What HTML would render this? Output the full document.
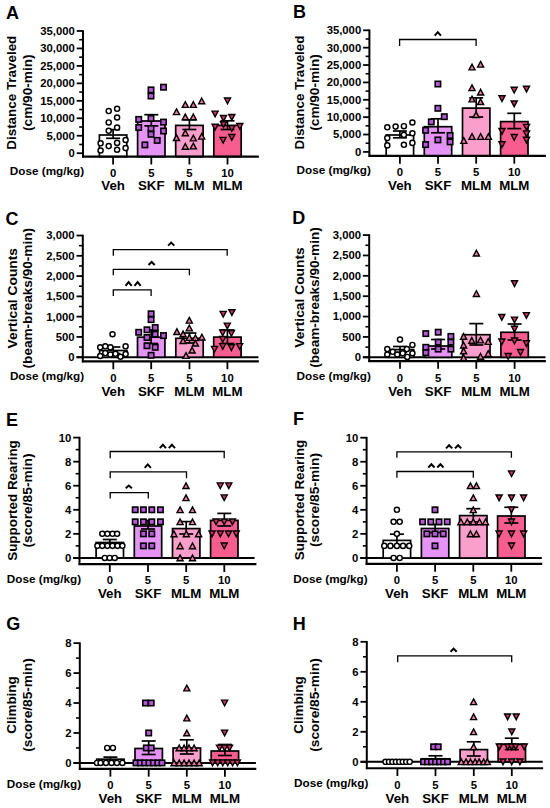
<!DOCTYPE html>
<html><head><meta charset="utf-8"><title>Figure</title>
<style>
html,body{margin:0;padding:0;background:#fff;}
body{width:550px;height:808px;overflow:hidden;}
svg{display:block;font-family:"Liberation Sans", sans-serif;}
text{font-family:"Liberation Sans", sans-serif;fill:#000;}
</style></head><body>
<svg width="550" height="808" viewBox="0 0 550 808">
<rect x="0" y="0" width="550" height="808" fill="#fff"/>
<text x="6.00" y="18.60" font-size="18.0" font-weight="bold" text-anchor="start" >A</text>
<text transform="translate(16.40,92.70) rotate(-90)" font-size="12.9" font-weight="bold" text-anchor="middle" textLength="114.0" lengthAdjust="spacingAndGlyphs">Distance Traveled</text>
<text transform="translate(32.00,92.70) rotate(-90)" font-size="12.5" font-weight="bold" text-anchor="middle" textLength="76.5" lengthAdjust="spacingAndGlyphs">(cm/90-min)</text>
<line x1="76.70" y1="153.20" x2="83.00" y2="153.20" stroke="#000" stroke-width="1.8"/>
<text x="74.80" y="157.10" font-size="11.3" font-weight="bold" text-anchor="end" >0</text>
<line x1="76.70" y1="135.74" x2="83.00" y2="135.74" stroke="#000" stroke-width="1.8"/>
<text x="74.80" y="139.64" font-size="11.3" font-weight="bold" text-anchor="end" >5,000</text>
<line x1="76.70" y1="118.28" x2="83.00" y2="118.28" stroke="#000" stroke-width="1.8"/>
<text x="74.80" y="122.18" font-size="11.3" font-weight="bold" text-anchor="end" >10,000</text>
<line x1="76.70" y1="100.82" x2="83.00" y2="100.82" stroke="#000" stroke-width="1.8"/>
<text x="74.80" y="104.72" font-size="11.3" font-weight="bold" text-anchor="end" >15,000</text>
<line x1="76.70" y1="83.36" x2="83.00" y2="83.36" stroke="#000" stroke-width="1.8"/>
<text x="74.80" y="87.26" font-size="11.3" font-weight="bold" text-anchor="end" >20,000</text>
<line x1="76.70" y1="65.90" x2="83.00" y2="65.90" stroke="#000" stroke-width="1.8"/>
<text x="74.80" y="69.80" font-size="11.3" font-weight="bold" text-anchor="end" >25,000</text>
<line x1="76.70" y1="48.44" x2="83.00" y2="48.44" stroke="#000" stroke-width="1.8"/>
<text x="74.80" y="52.34" font-size="11.3" font-weight="bold" text-anchor="end" >30,000</text>
<line x1="76.70" y1="30.98" x2="83.00" y2="30.98" stroke="#000" stroke-width="1.8"/>
<text x="74.80" y="34.88" font-size="11.3" font-weight="bold" text-anchor="end" >35,000</text>
<line x1="79.20" y1="144.47" x2="83.00" y2="144.47" stroke="#000" stroke-width="1.6"/>
<line x1="79.20" y1="127.01" x2="83.00" y2="127.01" stroke="#000" stroke-width="1.6"/>
<line x1="79.20" y1="109.55" x2="83.00" y2="109.55" stroke="#000" stroke-width="1.6"/>
<line x1="79.20" y1="92.09" x2="83.00" y2="92.09" stroke="#000" stroke-width="1.6"/>
<line x1="79.20" y1="74.63" x2="83.00" y2="74.63" stroke="#000" stroke-width="1.6"/>
<line x1="79.20" y1="57.17" x2="83.00" y2="57.17" stroke="#000" stroke-width="1.6"/>
<line x1="79.20" y1="39.71" x2="83.00" y2="39.71" stroke="#000" stroke-width="1.6"/>
<rect x="99.40" y="135.00" width="27.40" height="21.65" fill="#ffffff" stroke="#000" stroke-width="1.7"/>
<rect x="137.60" y="121.00" width="27.40" height="35.65" fill="#e594f6" stroke="#000" stroke-width="1.7"/>
<rect x="175.70" y="125.40" width="27.40" height="31.25" fill="#fa9fcc" stroke="#000" stroke-width="1.7"/>
<rect x="213.80" y="125.40" width="27.40" height="31.25" fill="#f85d90" stroke="#000" stroke-width="1.7"/>
<line x1="113.10" y1="129.60" x2="113.10" y2="138.30" stroke="#000" stroke-width="1.7"/>
<line x1="106.10" y1="129.60" x2="120.10" y2="129.60" stroke="#000" stroke-width="1.7"/>
<line x1="106.10" y1="138.30" x2="120.10" y2="138.30" stroke="#000" stroke-width="1.7"/>
<line x1="151.30" y1="114.70" x2="151.30" y2="125.90" stroke="#000" stroke-width="1.7"/>
<line x1="144.30" y1="114.70" x2="158.30" y2="114.70" stroke="#000" stroke-width="1.7"/>
<line x1="144.30" y1="125.90" x2="158.30" y2="125.90" stroke="#000" stroke-width="1.7"/>
<line x1="189.40" y1="119.80" x2="189.40" y2="129.50" stroke="#000" stroke-width="1.7"/>
<line x1="182.40" y1="119.80" x2="196.40" y2="119.80" stroke="#000" stroke-width="1.7"/>
<line x1="182.40" y1="129.50" x2="196.40" y2="129.50" stroke="#000" stroke-width="1.7"/>
<line x1="227.50" y1="120.80" x2="227.50" y2="129.50" stroke="#000" stroke-width="1.7"/>
<line x1="220.50" y1="120.80" x2="234.50" y2="120.80" stroke="#000" stroke-width="1.7"/>
<line x1="220.50" y1="129.50" x2="234.50" y2="129.50" stroke="#000" stroke-width="1.7"/>
<circle cx="108.70" cy="111.10" r="2.55" fill="#fff" stroke="#000" stroke-width="1.45"/>
<circle cx="117.10" cy="108.80" r="2.55" fill="#fff" stroke="#000" stroke-width="1.45"/>
<circle cx="117.10" cy="117.50" r="2.55" fill="#fff" stroke="#000" stroke-width="1.45"/>
<circle cx="108.70" cy="122.40" r="2.55" fill="#fff" stroke="#000" stroke-width="1.45"/>
<circle cx="117.10" cy="127.60" r="2.55" fill="#fff" stroke="#000" stroke-width="1.45"/>
<circle cx="108.70" cy="130.80" r="2.55" fill="#fff" stroke="#000" stroke-width="1.45"/>
<circle cx="100.60" cy="143.30" r="2.55" fill="#fff" stroke="#000" stroke-width="1.45"/>
<circle cx="108.70" cy="146.10" r="2.55" fill="#fff" stroke="#000" stroke-width="1.45"/>
<circle cx="117.10" cy="142.90" r="2.55" fill="#fff" stroke="#000" stroke-width="1.45"/>
<circle cx="125.60" cy="140.00" r="2.55" fill="#fff" stroke="#000" stroke-width="1.45"/>
<circle cx="100.60" cy="150.50" r="2.55" fill="#fff" stroke="#000" stroke-width="1.45"/>
<circle cx="117.10" cy="149.70" r="2.55" fill="#fff" stroke="#000" stroke-width="1.45"/>
<circle cx="125.60" cy="148.10" r="2.55" fill="#fff" stroke="#000" stroke-width="1.45"/>
<rect x="148.30" y="87.20" width="5.40" height="5.40" fill="#bb55dd" stroke="#000" stroke-width="1.6"/>
<rect x="148.30" y="93.30" width="5.40" height="5.40" fill="#bb55dd" stroke="#000" stroke-width="1.6"/>
<rect x="160.80" y="84.50" width="5.40" height="5.40" fill="#bb55dd" stroke="#000" stroke-width="1.6"/>
<rect x="136.00" y="116.70" width="5.40" height="5.40" fill="#bb55dd" stroke="#000" stroke-width="1.6"/>
<rect x="148.30" y="115.70" width="5.40" height="5.40" fill="#bb55dd" stroke="#000" stroke-width="1.6"/>
<rect x="160.80" y="119.40" width="5.40" height="5.40" fill="#bb55dd" stroke="#000" stroke-width="1.6"/>
<rect x="136.00" y="124.80" width="5.40" height="5.40" fill="#bb55dd" stroke="#000" stroke-width="1.6"/>
<rect x="148.30" y="125.80" width="5.40" height="5.40" fill="#bb55dd" stroke="#000" stroke-width="1.6"/>
<rect x="160.80" y="128.30" width="5.40" height="5.40" fill="#bb55dd" stroke="#000" stroke-width="1.6"/>
<rect x="148.30" y="131.60" width="5.40" height="5.40" fill="#bb55dd" stroke="#000" stroke-width="1.6"/>
<rect x="154.50" y="137.70" width="5.40" height="5.40" fill="#bb55dd" stroke="#000" stroke-width="1.6"/>
<rect x="142.20" y="142.20" width="5.40" height="5.40" fill="#bb55dd" stroke="#000" stroke-width="1.6"/>
<path d="M201.70,98.05 L204.75,103.75 L198.65,103.75 Z" fill="#ee7aa8" stroke="#000" stroke-width="1.4" stroke-linejoin="miter"/>
<path d="M185.30,101.65 L188.35,107.35 L182.25,107.35 Z" fill="#ee7aa8" stroke="#000" stroke-width="1.4" stroke-linejoin="miter"/>
<path d="M193.30,101.65 L196.35,107.35 L190.25,107.35 Z" fill="#ee7aa8" stroke="#000" stroke-width="1.4" stroke-linejoin="miter"/>
<path d="M176.50,108.95 L179.55,114.65 L173.45,114.65 Z" fill="#ee7aa8" stroke="#000" stroke-width="1.4" stroke-linejoin="miter"/>
<path d="M185.30,114.05 L188.35,119.75 L182.25,119.75 Z" fill="#ee7aa8" stroke="#000" stroke-width="1.4" stroke-linejoin="miter"/>
<path d="M193.30,114.05 L196.35,119.75 L190.25,119.75 Z" fill="#ee7aa8" stroke="#000" stroke-width="1.4" stroke-linejoin="miter"/>
<path d="M185.30,130.05 L188.35,135.75 L182.25,135.75 Z" fill="#ee7aa8" stroke="#000" stroke-width="1.4" stroke-linejoin="miter"/>
<path d="M176.50,134.85 L179.55,140.55 L173.45,140.55 Z" fill="#ee7aa8" stroke="#000" stroke-width="1.4" stroke-linejoin="miter"/>
<path d="M193.30,135.15 L196.35,140.85 L190.25,140.85 Z" fill="#ee7aa8" stroke="#000" stroke-width="1.4" stroke-linejoin="miter"/>
<path d="M201.70,133.45 L204.75,139.15 L198.65,139.15 Z" fill="#ee7aa8" stroke="#000" stroke-width="1.4" stroke-linejoin="miter"/>
<path d="M185.30,143.55 L188.35,149.25 L182.25,149.25 Z" fill="#ee7aa8" stroke="#000" stroke-width="1.4" stroke-linejoin="miter"/>
<path d="M193.30,143.15 L196.35,148.85 L190.25,148.85 Z" fill="#ee7aa8" stroke="#000" stroke-width="1.4" stroke-linejoin="miter"/>
<path d="M224.45,98.05 L230.55,98.05 L227.50,103.75 Z" fill="#d82e67" stroke="#000" stroke-width="1.4" stroke-linejoin="miter"/>
<path d="M212.05,111.15 L218.15,111.15 L215.10,116.85 Z" fill="#d82e67" stroke="#000" stroke-width="1.4" stroke-linejoin="miter"/>
<path d="M220.45,115.55 L226.55,115.55 L223.50,121.25 Z" fill="#d82e67" stroke="#000" stroke-width="1.4" stroke-linejoin="miter"/>
<path d="M228.75,114.45 L234.85,114.45 L231.80,120.15 Z" fill="#d82e67" stroke="#000" stroke-width="1.4" stroke-linejoin="miter"/>
<path d="M220.45,121.75 L226.55,121.75 L223.50,127.45 Z" fill="#d82e67" stroke="#000" stroke-width="1.4" stroke-linejoin="miter"/>
<path d="M212.05,124.25 L218.15,124.25 L215.10,129.95 Z" fill="#d82e67" stroke="#000" stroke-width="1.4" stroke-linejoin="miter"/>
<path d="M228.75,125.65 L234.85,125.65 L231.80,131.35 Z" fill="#d82e67" stroke="#000" stroke-width="1.4" stroke-linejoin="miter"/>
<path d="M236.75,123.55 L242.85,123.55 L239.80,129.25 Z" fill="#d82e67" stroke="#000" stroke-width="1.4" stroke-linejoin="miter"/>
<path d="M220.05,137.35 L226.15,137.35 L223.10,143.05 Z" fill="#d82e67" stroke="#000" stroke-width="1.4" stroke-linejoin="miter"/>
<path d="M228.75,134.45 L234.85,134.45 L231.80,140.15 Z" fill="#d82e67" stroke="#000" stroke-width="1.4" stroke-linejoin="miter"/>
<line x1="83.00" y1="30.18" x2="83.00" y2="157.55" stroke="#000" stroke-width="2.0"/>
<line x1="82.10" y1="156.65" x2="258.90" y2="156.65" stroke="#000" stroke-width="2.2"/>
<line x1="113.10" y1="156.65" x2="113.10" y2="164.45" stroke="#000" stroke-width="1.8"/>
<text x="113.10" y="176.50" font-size="11.3" font-weight="bold" text-anchor="middle" >0</text>
<text x="113.10" y="190.40" font-size="13.3" font-weight="bold" text-anchor="middle" >Veh</text>
<line x1="151.30" y1="156.65" x2="151.30" y2="164.45" stroke="#000" stroke-width="1.8"/>
<text x="151.30" y="176.50" font-size="11.3" font-weight="bold" text-anchor="middle" >5</text>
<text x="151.30" y="190.40" font-size="13.3" font-weight="bold" text-anchor="middle" >SKF</text>
<line x1="189.40" y1="156.65" x2="189.40" y2="164.45" stroke="#000" stroke-width="1.8"/>
<text x="189.40" y="176.50" font-size="11.3" font-weight="bold" text-anchor="middle" >5</text>
<text x="189.40" y="190.40" font-size="13.3" font-weight="bold" text-anchor="middle" >MLM</text>
<line x1="227.50" y1="156.65" x2="227.50" y2="164.45" stroke="#000" stroke-width="1.8"/>
<text x="227.50" y="176.50" font-size="11.3" font-weight="bold" text-anchor="middle" >10</text>
<text x="227.50" y="190.40" font-size="13.3" font-weight="bold" text-anchor="middle" >MLM</text>
<text x="9.80" y="175.10" font-size="11.6" font-weight="bold" textLength="74.3" lengthAdjust="spacingAndGlyphs">Dose (mg/kg)</text>
<text x="292.90" y="18.40" font-size="18.0" font-weight="bold" text-anchor="start" >B</text>
<text transform="translate(303.50,92.50) rotate(-90)" font-size="12.9" font-weight="bold" text-anchor="middle" textLength="114.0" lengthAdjust="spacingAndGlyphs">Distance Traveled</text>
<text transform="translate(319.10,92.50) rotate(-90)" font-size="12.5" font-weight="bold" text-anchor="middle" textLength="76.5" lengthAdjust="spacingAndGlyphs">(cm/90-min)</text>
<line x1="363.10" y1="151.90" x2="369.40" y2="151.90" stroke="#000" stroke-width="1.8"/>
<text x="361.20" y="155.80" font-size="11.3" font-weight="bold" text-anchor="end" >0</text>
<line x1="363.10" y1="134.53" x2="369.40" y2="134.53" stroke="#000" stroke-width="1.8"/>
<text x="361.20" y="138.43" font-size="11.3" font-weight="bold" text-anchor="end" >5,000</text>
<line x1="363.10" y1="117.16" x2="369.40" y2="117.16" stroke="#000" stroke-width="1.8"/>
<text x="361.20" y="121.06" font-size="11.3" font-weight="bold" text-anchor="end" >10,000</text>
<line x1="363.10" y1="99.79" x2="369.40" y2="99.79" stroke="#000" stroke-width="1.8"/>
<text x="361.20" y="103.69" font-size="11.3" font-weight="bold" text-anchor="end" >15,000</text>
<line x1="363.10" y1="82.42" x2="369.40" y2="82.42" stroke="#000" stroke-width="1.8"/>
<text x="361.20" y="86.32" font-size="11.3" font-weight="bold" text-anchor="end" >20,000</text>
<line x1="363.10" y1="65.05" x2="369.40" y2="65.05" stroke="#000" stroke-width="1.8"/>
<text x="361.20" y="68.95" font-size="11.3" font-weight="bold" text-anchor="end" >25,000</text>
<line x1="363.10" y1="47.68" x2="369.40" y2="47.68" stroke="#000" stroke-width="1.8"/>
<text x="361.20" y="51.58" font-size="11.3" font-weight="bold" text-anchor="end" >30,000</text>
<line x1="363.10" y1="30.31" x2="369.40" y2="30.31" stroke="#000" stroke-width="1.8"/>
<text x="361.20" y="34.21" font-size="11.3" font-weight="bold" text-anchor="end" >35,000</text>
<line x1="365.60" y1="143.22" x2="369.40" y2="143.22" stroke="#000" stroke-width="1.6"/>
<line x1="365.60" y1="125.84" x2="369.40" y2="125.84" stroke="#000" stroke-width="1.6"/>
<line x1="365.60" y1="108.47" x2="369.40" y2="108.47" stroke="#000" stroke-width="1.6"/>
<line x1="365.60" y1="91.11" x2="369.40" y2="91.11" stroke="#000" stroke-width="1.6"/>
<line x1="365.60" y1="73.73" x2="369.40" y2="73.73" stroke="#000" stroke-width="1.6"/>
<line x1="365.60" y1="56.36" x2="369.40" y2="56.36" stroke="#000" stroke-width="1.6"/>
<line x1="365.60" y1="39.00" x2="369.40" y2="39.00" stroke="#000" stroke-width="1.6"/>
<rect x="386.20" y="135.00" width="27.40" height="20.85" fill="#ffffff" stroke="#000" stroke-width="1.7"/>
<rect x="424.30" y="126.70" width="27.40" height="29.15" fill="#e594f6" stroke="#000" stroke-width="1.7"/>
<rect x="462.50" y="108.10" width="27.40" height="47.75" fill="#fa9fcc" stroke="#000" stroke-width="1.7"/>
<rect x="500.60" y="121.60" width="27.40" height="34.25" fill="#f85d90" stroke="#000" stroke-width="1.7"/>
<line x1="399.90" y1="131.00" x2="399.90" y2="137.80" stroke="#000" stroke-width="1.7"/>
<line x1="392.90" y1="131.00" x2="406.90" y2="131.00" stroke="#000" stroke-width="1.7"/>
<line x1="392.90" y1="137.80" x2="406.90" y2="137.80" stroke="#000" stroke-width="1.7"/>
<line x1="438.00" y1="118.80" x2="438.00" y2="132.80" stroke="#000" stroke-width="1.7"/>
<line x1="431.00" y1="118.80" x2="445.00" y2="118.80" stroke="#000" stroke-width="1.7"/>
<line x1="431.00" y1="132.80" x2="445.00" y2="132.80" stroke="#000" stroke-width="1.7"/>
<line x1="476.20" y1="97.90" x2="476.20" y2="117.00" stroke="#000" stroke-width="1.7"/>
<line x1="469.20" y1="97.90" x2="483.20" y2="97.90" stroke="#000" stroke-width="1.7"/>
<line x1="469.20" y1="117.00" x2="483.20" y2="117.00" stroke="#000" stroke-width="1.7"/>
<line x1="514.30" y1="113.30" x2="514.30" y2="128.60" stroke="#000" stroke-width="1.7"/>
<line x1="507.30" y1="113.30" x2="521.30" y2="113.30" stroke="#000" stroke-width="1.7"/>
<line x1="507.30" y1="128.60" x2="521.30" y2="128.60" stroke="#000" stroke-width="1.7"/>
<circle cx="387.30" cy="127.30" r="2.55" fill="#fff" stroke="#000" stroke-width="1.45"/>
<circle cx="395.60" cy="126.60" r="2.55" fill="#fff" stroke="#000" stroke-width="1.45"/>
<circle cx="403.90" cy="126.20" r="2.55" fill="#fff" stroke="#000" stroke-width="1.45"/>
<circle cx="412.40" cy="122.50" r="2.55" fill="#fff" stroke="#000" stroke-width="1.45"/>
<circle cx="403.90" cy="134.90" r="2.55" fill="#fff" stroke="#000" stroke-width="1.45"/>
<circle cx="412.40" cy="133.20" r="2.55" fill="#fff" stroke="#000" stroke-width="1.45"/>
<circle cx="387.30" cy="138.10" r="2.55" fill="#fff" stroke="#000" stroke-width="1.45"/>
<circle cx="387.30" cy="145.40" r="2.55" fill="#fff" stroke="#000" stroke-width="1.45"/>
<circle cx="403.90" cy="144.80" r="2.55" fill="#fff" stroke="#000" stroke-width="1.45"/>
<circle cx="412.40" cy="142.90" r="2.55" fill="#fff" stroke="#000" stroke-width="1.45"/>
<rect x="435.20" y="81.30" width="5.40" height="5.40" fill="#bb55dd" stroke="#000" stroke-width="1.6"/>
<rect x="435.20" y="105.60" width="5.40" height="5.40" fill="#bb55dd" stroke="#000" stroke-width="1.6"/>
<rect x="441.60" y="114.00" width="5.40" height="5.40" fill="#bb55dd" stroke="#000" stroke-width="1.6"/>
<rect x="428.60" y="119.20" width="5.40" height="5.40" fill="#bb55dd" stroke="#000" stroke-width="1.6"/>
<rect x="422.90" y="127.60" width="5.40" height="5.40" fill="#bb55dd" stroke="#000" stroke-width="1.6"/>
<rect x="435.20" y="137.20" width="5.40" height="5.40" fill="#bb55dd" stroke="#000" stroke-width="1.6"/>
<rect x="447.40" y="132.80" width="5.40" height="5.40" fill="#bb55dd" stroke="#000" stroke-width="1.6"/>
<rect x="447.40" y="139.20" width="5.40" height="5.40" fill="#bb55dd" stroke="#000" stroke-width="1.6"/>
<rect x="422.90" y="141.90" width="5.40" height="5.40" fill="#bb55dd" stroke="#000" stroke-width="1.6"/>
<path d="M472.00,64.15 L475.05,69.85 L468.95,69.85 Z" fill="#ee7aa8" stroke="#000" stroke-width="1.4" stroke-linejoin="miter"/>
<path d="M480.60,61.45 L483.65,67.15 L477.55,67.15 Z" fill="#ee7aa8" stroke="#000" stroke-width="1.4" stroke-linejoin="miter"/>
<path d="M472.00,84.95 L475.05,90.65 L468.95,90.65 Z" fill="#ee7aa8" stroke="#000" stroke-width="1.4" stroke-linejoin="miter"/>
<path d="M480.60,89.35 L483.65,95.05 L477.55,95.05 Z" fill="#ee7aa8" stroke="#000" stroke-width="1.4" stroke-linejoin="miter"/>
<path d="M472.00,96.15 L475.05,101.85 L468.95,101.85 Z" fill="#ee7aa8" stroke="#000" stroke-width="1.4" stroke-linejoin="miter"/>
<path d="M480.60,98.85 L483.65,104.55 L477.55,104.55 Z" fill="#ee7aa8" stroke="#000" stroke-width="1.4" stroke-linejoin="miter"/>
<path d="M476.10,111.85 L479.15,117.55 L473.05,117.55 Z" fill="#ee7aa8" stroke="#000" stroke-width="1.4" stroke-linejoin="miter"/>
<path d="M472.00,133.65 L475.05,139.35 L468.95,139.35 Z" fill="#ee7aa8" stroke="#000" stroke-width="1.4" stroke-linejoin="miter"/>
<path d="M480.60,133.65 L483.65,139.35 L477.55,139.35 Z" fill="#ee7aa8" stroke="#000" stroke-width="1.4" stroke-linejoin="miter"/>
<path d="M488.40,133.65 L491.45,139.35 L485.35,139.35 Z" fill="#ee7aa8" stroke="#000" stroke-width="1.4" stroke-linejoin="miter"/>
<path d="M463.80,137.65 L466.85,143.35 L460.75,143.35 Z" fill="#ee7aa8" stroke="#000" stroke-width="1.4" stroke-linejoin="miter"/>
<path d="M511.15,87.25 L517.25,87.25 L514.20,92.95 Z" fill="#d82e67" stroke="#000" stroke-width="1.4" stroke-linejoin="miter"/>
<path d="M523.45,86.25 L529.55,86.25 L526.50,91.95 Z" fill="#d82e67" stroke="#000" stroke-width="1.4" stroke-linejoin="miter"/>
<path d="M498.95,95.75 L505.05,95.75 L502.00,101.45 Z" fill="#d82e67" stroke="#000" stroke-width="1.4" stroke-linejoin="miter"/>
<path d="M511.15,100.95 L517.25,100.95 L514.20,106.65 Z" fill="#d82e67" stroke="#000" stroke-width="1.4" stroke-linejoin="miter"/>
<path d="M498.95,128.45 L505.05,128.45 L502.00,134.15 Z" fill="#d82e67" stroke="#000" stroke-width="1.4" stroke-linejoin="miter"/>
<path d="M523.45,124.35 L529.55,124.35 L526.50,130.05 Z" fill="#d82e67" stroke="#000" stroke-width="1.4" stroke-linejoin="miter"/>
<path d="M523.45,130.85 L529.55,130.85 L526.50,136.55 Z" fill="#d82e67" stroke="#000" stroke-width="1.4" stroke-linejoin="miter"/>
<path d="M511.15,134.55 L517.25,134.55 L514.20,140.25 Z" fill="#d82e67" stroke="#000" stroke-width="1.4" stroke-linejoin="miter"/>
<path d="M523.45,137.25 L529.55,137.25 L526.50,142.95 Z" fill="#d82e67" stroke="#000" stroke-width="1.4" stroke-linejoin="miter"/>
<path d="M498.95,141.75 L505.05,141.75 L502.00,147.45 Z" fill="#d82e67" stroke="#000" stroke-width="1.4" stroke-linejoin="miter"/>
<line x1="369.40" y1="29.51" x2="369.40" y2="156.75" stroke="#000" stroke-width="2.0"/>
<line x1="368.50" y1="155.85" x2="545.90" y2="155.85" stroke="#000" stroke-width="2.2"/>
<line x1="399.90" y1="155.85" x2="399.90" y2="163.65" stroke="#000" stroke-width="1.8"/>
<text x="399.90" y="175.80" font-size="11.3" font-weight="bold" text-anchor="middle" >0</text>
<text x="399.90" y="189.60" font-size="13.3" font-weight="bold" text-anchor="middle" >Veh</text>
<line x1="438.00" y1="155.85" x2="438.00" y2="163.65" stroke="#000" stroke-width="1.8"/>
<text x="438.00" y="175.80" font-size="11.3" font-weight="bold" text-anchor="middle" >5</text>
<text x="438.00" y="189.60" font-size="13.3" font-weight="bold" text-anchor="middle" >SKF</text>
<line x1="476.20" y1="155.85" x2="476.20" y2="163.65" stroke="#000" stroke-width="1.8"/>
<text x="476.20" y="175.80" font-size="11.3" font-weight="bold" text-anchor="middle" >5</text>
<text x="476.20" y="189.60" font-size="13.3" font-weight="bold" text-anchor="middle" >MLM</text>
<line x1="514.30" y1="155.85" x2="514.30" y2="163.65" stroke="#000" stroke-width="1.8"/>
<text x="514.30" y="175.80" font-size="11.3" font-weight="bold" text-anchor="middle" >10</text>
<text x="514.30" y="189.60" font-size="13.3" font-weight="bold" text-anchor="middle" >MLM</text>
<text x="296.60" y="174.20" font-size="11.6" font-weight="bold" textLength="74.3" lengthAdjust="spacingAndGlyphs">Dose (mg/kg)</text>
<path d="M399.60,46.00 L399.60,39.50 L476.10,39.50 L476.10,46.00" fill="none" stroke="#000" stroke-width="1.3"/>
<path d="M434.70,35.70 L437.80,32.20 L440.90,35.70" fill="none" stroke="#000" stroke-width="2.0" stroke-linejoin="miter"/>
<text x="5.60" y="224.60" font-size="18.0" font-weight="bold" text-anchor="start" >C</text>
<text transform="translate(16.50,298.20) rotate(-90)" font-size="12.9" font-weight="bold" text-anchor="middle" textLength="100.5" lengthAdjust="spacingAndGlyphs">Vertical Counts</text>
<text transform="translate(32.00,298.20) rotate(-90)" font-size="12.5" font-weight="bold" text-anchor="middle" textLength="140.5" lengthAdjust="spacingAndGlyphs">(beam-breaks/90-min)</text>
<line x1="76.50" y1="357.20" x2="82.80" y2="357.20" stroke="#000" stroke-width="1.8"/>
<text x="74.60" y="361.10" font-size="11.3" font-weight="bold" text-anchor="end" >0</text>
<line x1="76.50" y1="336.92" x2="82.80" y2="336.92" stroke="#000" stroke-width="1.8"/>
<text x="74.60" y="340.82" font-size="11.3" font-weight="bold" text-anchor="end" >500</text>
<line x1="76.50" y1="316.64" x2="82.80" y2="316.64" stroke="#000" stroke-width="1.8"/>
<text x="74.60" y="320.54" font-size="11.3" font-weight="bold" text-anchor="end" >1,000</text>
<line x1="76.50" y1="296.36" x2="82.80" y2="296.36" stroke="#000" stroke-width="1.8"/>
<text x="74.60" y="300.26" font-size="11.3" font-weight="bold" text-anchor="end" >1,500</text>
<line x1="76.50" y1="276.08" x2="82.80" y2="276.08" stroke="#000" stroke-width="1.8"/>
<text x="74.60" y="279.98" font-size="11.3" font-weight="bold" text-anchor="end" >2,000</text>
<line x1="76.50" y1="255.80" x2="82.80" y2="255.80" stroke="#000" stroke-width="1.8"/>
<text x="74.60" y="259.70" font-size="11.3" font-weight="bold" text-anchor="end" >2,500</text>
<line x1="76.50" y1="235.52" x2="82.80" y2="235.52" stroke="#000" stroke-width="1.8"/>
<text x="74.60" y="239.42" font-size="11.3" font-weight="bold" text-anchor="end" >3,000</text>
<line x1="79.00" y1="347.06" x2="82.80" y2="347.06" stroke="#000" stroke-width="1.6"/>
<line x1="79.00" y1="326.78" x2="82.80" y2="326.78" stroke="#000" stroke-width="1.6"/>
<line x1="79.00" y1="306.50" x2="82.80" y2="306.50" stroke="#000" stroke-width="1.6"/>
<line x1="79.00" y1="286.22" x2="82.80" y2="286.22" stroke="#000" stroke-width="1.6"/>
<line x1="79.00" y1="265.94" x2="82.80" y2="265.94" stroke="#000" stroke-width="1.6"/>
<line x1="79.00" y1="245.66" x2="82.80" y2="245.66" stroke="#000" stroke-width="1.6"/>
<line x1="76.50" y1="357.20" x2="258.40" y2="357.20" stroke="#000" stroke-width="2.0"/>
<rect x="99.60" y="350.50" width="27.40" height="6.70" fill="#ffffff" stroke="#000" stroke-width="1.7"/>
<rect x="137.50" y="337.20" width="27.40" height="20.00" fill="#e594f6" stroke="#000" stroke-width="1.7"/>
<rect x="175.80" y="338.30" width="27.40" height="18.90" fill="#fa9fcc" stroke="#000" stroke-width="1.7"/>
<rect x="213.70" y="337.10" width="27.40" height="20.10" fill="#f85d90" stroke="#000" stroke-width="1.7"/>
<line x1="113.30" y1="347.00" x2="113.30" y2="353.50" stroke="#000" stroke-width="1.7"/>
<line x1="106.30" y1="347.00" x2="120.30" y2="347.00" stroke="#000" stroke-width="1.7"/>
<line x1="106.30" y1="353.50" x2="120.30" y2="353.50" stroke="#000" stroke-width="1.7"/>
<line x1="151.20" y1="330.00" x2="151.20" y2="343.50" stroke="#000" stroke-width="1.7"/>
<line x1="144.20" y1="330.00" x2="158.20" y2="330.00" stroke="#000" stroke-width="1.7"/>
<line x1="144.20" y1="343.50" x2="158.20" y2="343.50" stroke="#000" stroke-width="1.7"/>
<line x1="189.50" y1="333.00" x2="189.50" y2="343.00" stroke="#000" stroke-width="1.7"/>
<line x1="182.50" y1="333.00" x2="196.50" y2="333.00" stroke="#000" stroke-width="1.7"/>
<line x1="182.50" y1="343.00" x2="196.50" y2="343.00" stroke="#000" stroke-width="1.7"/>
<line x1="227.40" y1="330.00" x2="227.40" y2="343.50" stroke="#000" stroke-width="1.7"/>
<line x1="220.40" y1="330.00" x2="234.40" y2="330.00" stroke="#000" stroke-width="1.7"/>
<line x1="220.40" y1="343.50" x2="234.40" y2="343.50" stroke="#000" stroke-width="1.7"/>
<circle cx="112.50" cy="334.20" r="2.55" fill="#fff" stroke="#000" stroke-width="1.45"/>
<circle cx="100.20" cy="347.30" r="2.55" fill="#fff" stroke="#000" stroke-width="1.45"/>
<circle cx="105.30" cy="346.30" r="2.55" fill="#fff" stroke="#000" stroke-width="1.45"/>
<circle cx="110.40" cy="347.30" r="2.55" fill="#fff" stroke="#000" stroke-width="1.45"/>
<circle cx="125.60" cy="346.30" r="2.55" fill="#fff" stroke="#000" stroke-width="1.45"/>
<circle cx="105.30" cy="353.10" r="2.55" fill="#fff" stroke="#000" stroke-width="1.45"/>
<circle cx="110.40" cy="354.50" r="2.55" fill="#fff" stroke="#000" stroke-width="1.45"/>
<circle cx="115.50" cy="353.80" r="2.55" fill="#fff" stroke="#000" stroke-width="1.45"/>
<circle cx="125.60" cy="354.10" r="2.55" fill="#fff" stroke="#000" stroke-width="1.45"/>
<circle cx="100.20" cy="356.00" r="2.55" fill="#fff" stroke="#000" stroke-width="1.45"/>
<circle cx="120.50" cy="356.70" r="2.55" fill="#fff" stroke="#000" stroke-width="1.45"/>
<rect x="148.40" y="311.10" width="5.40" height="5.40" fill="#bb55dd" stroke="#000" stroke-width="1.6"/>
<rect x="148.40" y="316.90" width="5.40" height="5.40" fill="#bb55dd" stroke="#000" stroke-width="1.6"/>
<rect x="136.00" y="329.60" width="5.40" height="5.40" fill="#bb55dd" stroke="#000" stroke-width="1.6"/>
<rect x="144.30" y="327.10" width="5.40" height="5.40" fill="#bb55dd" stroke="#000" stroke-width="1.6"/>
<rect x="152.50" y="324.90" width="5.40" height="5.40" fill="#bb55dd" stroke="#000" stroke-width="1.6"/>
<rect x="152.50" y="331.50" width="5.40" height="5.40" fill="#bb55dd" stroke="#000" stroke-width="1.6"/>
<rect x="160.80" y="332.90" width="5.40" height="5.40" fill="#bb55dd" stroke="#000" stroke-width="1.6"/>
<rect x="144.30" y="334.80" width="5.40" height="5.40" fill="#bb55dd" stroke="#000" stroke-width="1.6"/>
<rect x="144.30" y="343.10" width="5.40" height="5.40" fill="#bb55dd" stroke="#000" stroke-width="1.6"/>
<rect x="152.50" y="344.60" width="5.40" height="5.40" fill="#bb55dd" stroke="#000" stroke-width="1.6"/>
<rect x="148.40" y="352.60" width="5.40" height="5.40" fill="#bb55dd" stroke="#000" stroke-width="1.6"/>
<path d="M189.30,317.45 L192.35,323.15 L186.25,323.15 Z" fill="#ee7aa8" stroke="#000" stroke-width="1.4" stroke-linejoin="miter"/>
<path d="M189.30,325.15 L192.35,330.85 L186.25,330.85 Z" fill="#ee7aa8" stroke="#000" stroke-width="1.4" stroke-linejoin="miter"/>
<path d="M176.90,328.85 L179.95,334.55 L173.85,334.55 Z" fill="#ee7aa8" stroke="#000" stroke-width="1.4" stroke-linejoin="miter"/>
<path d="M183.10,331.05 L186.15,336.75 L180.05,336.75 Z" fill="#ee7aa8" stroke="#000" stroke-width="1.4" stroke-linejoin="miter"/>
<path d="M189.30,334.65 L192.35,340.35 L186.25,340.35 Z" fill="#ee7aa8" stroke="#000" stroke-width="1.4" stroke-linejoin="miter"/>
<path d="M195.40,334.95 L198.45,340.65 L192.35,340.65 Z" fill="#ee7aa8" stroke="#000" stroke-width="1.4" stroke-linejoin="miter"/>
<path d="M201.90,334.25 L204.95,339.95 L198.85,339.95 Z" fill="#ee7aa8" stroke="#000" stroke-width="1.4" stroke-linejoin="miter"/>
<path d="M183.10,337.85 L186.15,343.55 L180.05,343.55 Z" fill="#ee7aa8" stroke="#000" stroke-width="1.4" stroke-linejoin="miter"/>
<path d="M195.40,340.35 L198.45,346.05 L192.35,346.05 Z" fill="#ee7aa8" stroke="#000" stroke-width="1.4" stroke-linejoin="miter"/>
<path d="M192.10,347.35 L195.15,353.05 L189.05,353.05 Z" fill="#ee7aa8" stroke="#000" stroke-width="1.4" stroke-linejoin="miter"/>
<path d="M186.00,352.65 L189.05,358.35 L182.95,358.35 Z" fill="#ee7aa8" stroke="#000" stroke-width="1.4" stroke-linejoin="miter"/>
<path d="M220.15,311.35 L226.25,311.35 L223.20,317.05 Z" fill="#d82e67" stroke="#000" stroke-width="1.4" stroke-linejoin="miter"/>
<path d="M228.85,309.75 L234.95,309.75 L231.90,315.45 Z" fill="#d82e67" stroke="#000" stroke-width="1.4" stroke-linejoin="miter"/>
<path d="M224.25,323.15 L230.35,323.15 L227.30,328.85 Z" fill="#d82e67" stroke="#000" stroke-width="1.4" stroke-linejoin="miter"/>
<path d="M219.65,330.05 L225.75,330.05 L222.70,335.75 Z" fill="#d82e67" stroke="#000" stroke-width="1.4" stroke-linejoin="miter"/>
<path d="M228.35,330.55 L234.45,330.55 L231.40,336.25 Z" fill="#d82e67" stroke="#000" stroke-width="1.4" stroke-linejoin="miter"/>
<path d="M219.65,336.55 L225.75,336.55 L222.70,342.25 Z" fill="#d82e67" stroke="#000" stroke-width="1.4" stroke-linejoin="miter"/>
<path d="M219.65,343.65 L225.75,343.65 L222.70,349.35 Z" fill="#d82e67" stroke="#000" stroke-width="1.4" stroke-linejoin="miter"/>
<path d="M228.35,344.75 L234.45,344.75 L231.40,350.45 Z" fill="#d82e67" stroke="#000" stroke-width="1.4" stroke-linejoin="miter"/>
<path d="M236.55,343.65 L242.65,343.65 L239.60,349.35 Z" fill="#d82e67" stroke="#000" stroke-width="1.4" stroke-linejoin="miter"/>
<path d="M211.45,346.35 L217.55,346.35 L214.50,352.05 Z" fill="#d82e67" stroke="#000" stroke-width="1.4" stroke-linejoin="miter"/>
<line x1="82.80" y1="234.72" x2="82.80" y2="362.35" stroke="#000" stroke-width="2.0"/>
<line x1="81.90" y1="361.45" x2="258.80" y2="361.45" stroke="#000" stroke-width="2.2"/>
<line x1="113.30" y1="361.45" x2="113.30" y2="369.25" stroke="#000" stroke-width="1.8"/>
<text x="113.30" y="381.60" font-size="11.3" font-weight="bold" text-anchor="middle" >0</text>
<text x="113.30" y="395.50" font-size="13.3" font-weight="bold" text-anchor="middle" >Veh</text>
<line x1="151.20" y1="361.45" x2="151.20" y2="369.25" stroke="#000" stroke-width="1.8"/>
<text x="151.20" y="381.60" font-size="11.3" font-weight="bold" text-anchor="middle" >5</text>
<text x="151.20" y="395.50" font-size="13.3" font-weight="bold" text-anchor="middle" >SKF</text>
<line x1="189.50" y1="361.45" x2="189.50" y2="369.25" stroke="#000" stroke-width="1.8"/>
<text x="189.50" y="381.60" font-size="11.3" font-weight="bold" text-anchor="middle" >5</text>
<text x="189.50" y="395.50" font-size="13.3" font-weight="bold" text-anchor="middle" >MLM</text>
<line x1="227.40" y1="361.45" x2="227.40" y2="369.25" stroke="#000" stroke-width="1.8"/>
<text x="227.40" y="381.60" font-size="11.3" font-weight="bold" text-anchor="middle" >10</text>
<text x="227.40" y="395.50" font-size="13.3" font-weight="bold" text-anchor="middle" >MLM</text>
<text x="9.90" y="380.40" font-size="11.6" font-weight="bold" textLength="74.3" lengthAdjust="spacingAndGlyphs">Dose (mg/kg)</text>
<path d="M113.30,255.80 L113.30,249.70 L227.20,249.70 L227.20,255.80" fill="none" stroke="#000" stroke-width="1.3"/>
<path d="M168.10,245.60 L171.20,242.60 L174.30,245.60" fill="none" stroke="#000" stroke-width="2.0" stroke-linejoin="miter"/>
<path d="M113.30,275.20 L113.30,269.30 L189.40,269.30 L189.40,275.20" fill="none" stroke="#000" stroke-width="1.3"/>
<path d="M148.50,265.00 L151.60,262.00 L154.70,265.00" fill="none" stroke="#000" stroke-width="2.0" stroke-linejoin="miter"/>
<path d="M113.30,296.00 L113.30,289.80 L151.10,289.80 L151.10,296.00" fill="none" stroke="#000" stroke-width="1.3"/>
<path d="M125.50,285.80 L128.60,282.10 L131.70,285.80" fill="none" stroke="#000" stroke-width="2.0" stroke-linejoin="miter"/>
<path d="M134.50,285.80 L137.60,282.10 L140.70,285.80" fill="none" stroke="#000" stroke-width="2.0" stroke-linejoin="miter"/>
<text x="292.30" y="224.20" font-size="18.0" font-weight="bold" text-anchor="start" >D</text>
<text transform="translate(303.50,297.50) rotate(-90)" font-size="12.9" font-weight="bold" text-anchor="middle" textLength="100.5" lengthAdjust="spacingAndGlyphs">Vertical Counts</text>
<text transform="translate(319.10,297.50) rotate(-90)" font-size="12.5" font-weight="bold" text-anchor="middle" textLength="140.5" lengthAdjust="spacingAndGlyphs">(beam-breaks/90-min)</text>
<line x1="362.90" y1="357.30" x2="369.20" y2="357.30" stroke="#000" stroke-width="1.8"/>
<text x="361.00" y="361.20" font-size="11.3" font-weight="bold" text-anchor="end" >0</text>
<line x1="362.90" y1="336.93" x2="369.20" y2="336.93" stroke="#000" stroke-width="1.8"/>
<text x="361.00" y="340.83" font-size="11.3" font-weight="bold" text-anchor="end" >500</text>
<line x1="362.90" y1="316.56" x2="369.20" y2="316.56" stroke="#000" stroke-width="1.8"/>
<text x="361.00" y="320.46" font-size="11.3" font-weight="bold" text-anchor="end" >1,000</text>
<line x1="362.90" y1="296.19" x2="369.20" y2="296.19" stroke="#000" stroke-width="1.8"/>
<text x="361.00" y="300.09" font-size="11.3" font-weight="bold" text-anchor="end" >1,500</text>
<line x1="362.90" y1="275.82" x2="369.20" y2="275.82" stroke="#000" stroke-width="1.8"/>
<text x="361.00" y="279.72" font-size="11.3" font-weight="bold" text-anchor="end" >2,000</text>
<line x1="362.90" y1="255.45" x2="369.20" y2="255.45" stroke="#000" stroke-width="1.8"/>
<text x="361.00" y="259.35" font-size="11.3" font-weight="bold" text-anchor="end" >2,500</text>
<line x1="362.90" y1="235.08" x2="369.20" y2="235.08" stroke="#000" stroke-width="1.8"/>
<text x="361.00" y="238.98" font-size="11.3" font-weight="bold" text-anchor="end" >3,000</text>
<line x1="365.40" y1="347.12" x2="369.20" y2="347.12" stroke="#000" stroke-width="1.6"/>
<line x1="365.40" y1="326.75" x2="369.20" y2="326.75" stroke="#000" stroke-width="1.6"/>
<line x1="365.40" y1="306.38" x2="369.20" y2="306.38" stroke="#000" stroke-width="1.6"/>
<line x1="365.40" y1="286.00" x2="369.20" y2="286.00" stroke="#000" stroke-width="1.6"/>
<line x1="365.40" y1="265.63" x2="369.20" y2="265.63" stroke="#000" stroke-width="1.6"/>
<line x1="365.40" y1="245.26" x2="369.20" y2="245.26" stroke="#000" stroke-width="1.6"/>
<line x1="362.90" y1="357.30" x2="545.50" y2="357.30" stroke="#000" stroke-width="2.0"/>
<rect x="386.30" y="349.60" width="27.40" height="7.70" fill="#ffffff" stroke="#000" stroke-width="1.7"/>
<rect x="424.40" y="346.00" width="27.40" height="11.30" fill="#e594f6" stroke="#000" stroke-width="1.7"/>
<rect x="462.60" y="334.70" width="27.40" height="22.60" fill="#fa9fcc" stroke="#000" stroke-width="1.7"/>
<rect x="500.90" y="332.30" width="27.40" height="25.00" fill="#f85d90" stroke="#000" stroke-width="1.7"/>
<line x1="400.00" y1="346.50" x2="400.00" y2="352.50" stroke="#000" stroke-width="1.7"/>
<line x1="393.00" y1="346.50" x2="407.00" y2="346.50" stroke="#000" stroke-width="1.7"/>
<line x1="393.00" y1="352.50" x2="407.00" y2="352.50" stroke="#000" stroke-width="1.7"/>
<line x1="438.10" y1="339.50" x2="438.10" y2="349.00" stroke="#000" stroke-width="1.7"/>
<line x1="431.10" y1="339.50" x2="445.10" y2="339.50" stroke="#000" stroke-width="1.7"/>
<line x1="431.10" y1="349.00" x2="445.10" y2="349.00" stroke="#000" stroke-width="1.7"/>
<line x1="476.30" y1="323.60" x2="476.30" y2="345.00" stroke="#000" stroke-width="1.7"/>
<line x1="469.30" y1="323.60" x2="483.30" y2="323.60" stroke="#000" stroke-width="1.7"/>
<line x1="469.30" y1="345.00" x2="483.30" y2="345.00" stroke="#000" stroke-width="1.7"/>
<line x1="514.60" y1="324.00" x2="514.60" y2="340.00" stroke="#000" stroke-width="1.7"/>
<line x1="507.60" y1="324.00" x2="521.60" y2="324.00" stroke="#000" stroke-width="1.7"/>
<line x1="507.60" y1="340.00" x2="521.60" y2="340.00" stroke="#000" stroke-width="1.7"/>
<circle cx="400.00" cy="339.50" r="2.55" fill="#fff" stroke="#000" stroke-width="1.45"/>
<circle cx="387.30" cy="349.10" r="2.55" fill="#fff" stroke="#000" stroke-width="1.45"/>
<circle cx="412.40" cy="344.90" r="2.55" fill="#fff" stroke="#000" stroke-width="1.45"/>
<circle cx="406.90" cy="349.10" r="2.55" fill="#fff" stroke="#000" stroke-width="1.45"/>
<circle cx="392.70" cy="351.80" r="2.55" fill="#fff" stroke="#000" stroke-width="1.45"/>
<circle cx="387.30" cy="354.50" r="2.55" fill="#fff" stroke="#000" stroke-width="1.45"/>
<circle cx="397.30" cy="354.50" r="2.55" fill="#fff" stroke="#000" stroke-width="1.45"/>
<circle cx="402.70" cy="353.30" r="2.55" fill="#fff" stroke="#000" stroke-width="1.45"/>
<circle cx="412.40" cy="353.30" r="2.55" fill="#fff" stroke="#000" stroke-width="1.45"/>
<circle cx="407.30" cy="356.90" r="2.55" fill="#fff" stroke="#000" stroke-width="1.45"/>
<rect x="423.10" y="330.90" width="5.40" height="5.40" fill="#bb55dd" stroke="#000" stroke-width="1.6"/>
<rect x="435.50" y="329.50" width="5.40" height="5.40" fill="#bb55dd" stroke="#000" stroke-width="1.6"/>
<rect x="448.20" y="333.70" width="5.40" height="5.40" fill="#bb55dd" stroke="#000" stroke-width="1.6"/>
<rect x="435.50" y="339.50" width="5.40" height="5.40" fill="#bb55dd" stroke="#000" stroke-width="1.6"/>
<rect x="448.20" y="339.50" width="5.40" height="5.40" fill="#bb55dd" stroke="#000" stroke-width="1.6"/>
<rect x="423.10" y="344.60" width="5.40" height="5.40" fill="#bb55dd" stroke="#000" stroke-width="1.6"/>
<rect x="435.50" y="346.40" width="5.40" height="5.40" fill="#bb55dd" stroke="#000" stroke-width="1.6"/>
<rect x="448.20" y="346.40" width="5.40" height="5.40" fill="#bb55dd" stroke="#000" stroke-width="1.6"/>
<rect x="423.10" y="350.00" width="5.40" height="5.40" fill="#bb55dd" stroke="#000" stroke-width="1.6"/>
<path d="M476.40,250.25 L479.45,255.95 L473.35,255.95 Z" fill="#ee7aa8" stroke="#000" stroke-width="1.4" stroke-linejoin="miter"/>
<path d="M476.40,290.75 L479.45,296.45 L473.35,296.45 Z" fill="#ee7aa8" stroke="#000" stroke-width="1.4" stroke-linejoin="miter"/>
<path d="M463.60,333.55 L466.65,339.25 L460.55,339.25 Z" fill="#ee7aa8" stroke="#000" stroke-width="1.4" stroke-linejoin="miter"/>
<path d="M471.80,337.55 L474.85,343.25 L468.75,343.25 Z" fill="#ee7aa8" stroke="#000" stroke-width="1.4" stroke-linejoin="miter"/>
<path d="M480.50,337.15 L483.55,342.85 L477.45,342.85 Z" fill="#ee7aa8" stroke="#000" stroke-width="1.4" stroke-linejoin="miter"/>
<path d="M488.20,338.65 L491.25,344.35 L485.15,344.35 Z" fill="#ee7aa8" stroke="#000" stroke-width="1.4" stroke-linejoin="miter"/>
<path d="M463.60,342.25 L466.65,347.95 L460.55,347.95 Z" fill="#ee7aa8" stroke="#000" stroke-width="1.4" stroke-linejoin="miter"/>
<path d="M463.60,348.05 L466.65,353.75 L460.55,353.75 Z" fill="#ee7aa8" stroke="#000" stroke-width="1.4" stroke-linejoin="miter"/>
<path d="M488.20,350.75 L491.25,356.45 L485.15,356.45 Z" fill="#ee7aa8" stroke="#000" stroke-width="1.4" stroke-linejoin="miter"/>
<path d="M480.50,353.55 L483.55,359.25 L477.45,359.25 Z" fill="#ee7aa8" stroke="#000" stroke-width="1.4" stroke-linejoin="miter"/>
<path d="M463.60,354.95 L466.65,360.65 L460.55,360.65 Z" fill="#ee7aa8" stroke="#000" stroke-width="1.4" stroke-linejoin="miter"/>
<path d="M511.45,280.75 L517.55,280.75 L514.50,286.45 Z" fill="#d82e67" stroke="#000" stroke-width="1.4" stroke-linejoin="miter"/>
<path d="M498.75,314.45 L504.85,314.45 L501.80,320.15 Z" fill="#d82e67" stroke="#000" stroke-width="1.4" stroke-linejoin="miter"/>
<path d="M523.35,312.65 L529.45,312.65 L526.40,318.35 Z" fill="#d82e67" stroke="#000" stroke-width="1.4" stroke-linejoin="miter"/>
<path d="M511.45,317.15 L517.55,317.15 L514.50,322.85 Z" fill="#d82e67" stroke="#000" stroke-width="1.4" stroke-linejoin="miter"/>
<path d="M511.45,326.25 L517.55,326.25 L514.50,331.95 Z" fill="#d82e67" stroke="#000" stroke-width="1.4" stroke-linejoin="miter"/>
<path d="M498.75,338.95 L504.85,338.95 L501.80,344.65 Z" fill="#d82e67" stroke="#000" stroke-width="1.4" stroke-linejoin="miter"/>
<path d="M511.45,338.05 L517.55,338.05 L514.50,343.75 Z" fill="#d82e67" stroke="#000" stroke-width="1.4" stroke-linejoin="miter"/>
<path d="M523.35,340.75 L529.45,340.75 L526.40,346.45 Z" fill="#d82e67" stroke="#000" stroke-width="1.4" stroke-linejoin="miter"/>
<path d="M517.45,349.55 L523.55,349.55 L520.50,355.25 Z" fill="#d82e67" stroke="#000" stroke-width="1.4" stroke-linejoin="miter"/>
<path d="M505.15,353.55 L511.25,353.55 L508.20,359.25 Z" fill="#d82e67" stroke="#000" stroke-width="1.4" stroke-linejoin="miter"/>
<line x1="369.20" y1="234.28" x2="369.20" y2="361.95" stroke="#000" stroke-width="2.0"/>
<line x1="368.30" y1="361.05" x2="545.90" y2="361.05" stroke="#000" stroke-width="2.2"/>
<line x1="400.00" y1="361.05" x2="400.00" y2="368.85" stroke="#000" stroke-width="1.8"/>
<text x="400.00" y="381.60" font-size="11.3" font-weight="bold" text-anchor="middle" >0</text>
<text x="400.00" y="395.50" font-size="13.3" font-weight="bold" text-anchor="middle" >Veh</text>
<line x1="438.10" y1="361.05" x2="438.10" y2="368.85" stroke="#000" stroke-width="1.8"/>
<text x="438.10" y="381.60" font-size="11.3" font-weight="bold" text-anchor="middle" >5</text>
<text x="438.10" y="395.50" font-size="13.3" font-weight="bold" text-anchor="middle" >SKF</text>
<line x1="476.30" y1="361.05" x2="476.30" y2="368.85" stroke="#000" stroke-width="1.8"/>
<text x="476.30" y="381.60" font-size="11.3" font-weight="bold" text-anchor="middle" >5</text>
<text x="476.30" y="395.50" font-size="13.3" font-weight="bold" text-anchor="middle" >MLM</text>
<line x1="514.60" y1="361.05" x2="514.60" y2="368.85" stroke="#000" stroke-width="1.8"/>
<text x="514.60" y="381.60" font-size="11.3" font-weight="bold" text-anchor="middle" >10</text>
<text x="514.60" y="395.50" font-size="13.3" font-weight="bold" text-anchor="middle" >MLM</text>
<text x="296.60" y="380.40" font-size="11.6" font-weight="bold" textLength="74.3" lengthAdjust="spacingAndGlyphs">Dose (mg/kg)</text>
<text x="5.90" y="426.20" font-size="18.0" font-weight="bold" text-anchor="start" >E</text>
<text transform="translate(16.50,500.50) rotate(-90)" font-size="12.9" font-weight="bold" text-anchor="middle" textLength="120.5" lengthAdjust="spacingAndGlyphs">Supported Rearing</text>
<text transform="translate(32.00,500.50) rotate(-90)" font-size="12.5" font-weight="bold" text-anchor="middle" textLength="94.0" lengthAdjust="spacingAndGlyphs">(score/85-min)</text>
<line x1="73.20" y1="557.90" x2="79.50" y2="557.90" stroke="#000" stroke-width="1.8"/>
<text x="71.30" y="561.80" font-size="11.3" font-weight="bold" text-anchor="end" >0</text>
<line x1="73.20" y1="533.84" x2="79.50" y2="533.84" stroke="#000" stroke-width="1.8"/>
<text x="71.30" y="537.74" font-size="11.3" font-weight="bold" text-anchor="end" >2</text>
<line x1="73.20" y1="509.78" x2="79.50" y2="509.78" stroke="#000" stroke-width="1.8"/>
<text x="71.30" y="513.68" font-size="11.3" font-weight="bold" text-anchor="end" >4</text>
<line x1="73.20" y1="485.72" x2="79.50" y2="485.72" stroke="#000" stroke-width="1.8"/>
<text x="71.30" y="489.62" font-size="11.3" font-weight="bold" text-anchor="end" >6</text>
<line x1="73.20" y1="461.66" x2="79.50" y2="461.66" stroke="#000" stroke-width="1.8"/>
<text x="71.30" y="465.56" font-size="11.3" font-weight="bold" text-anchor="end" >8</text>
<line x1="73.20" y1="437.60" x2="79.50" y2="437.60" stroke="#000" stroke-width="1.8"/>
<text x="71.30" y="441.50" font-size="11.3" font-weight="bold" text-anchor="end" >10</text>
<line x1="75.70" y1="545.87" x2="79.50" y2="545.87" stroke="#000" stroke-width="1.6"/>
<line x1="75.70" y1="521.81" x2="79.50" y2="521.81" stroke="#000" stroke-width="1.6"/>
<line x1="75.70" y1="497.75" x2="79.50" y2="497.75" stroke="#000" stroke-width="1.6"/>
<line x1="75.70" y1="473.69" x2="79.50" y2="473.69" stroke="#000" stroke-width="1.6"/>
<line x1="75.70" y1="449.63" x2="79.50" y2="449.63" stroke="#000" stroke-width="1.6"/>
<line x1="73.20" y1="557.90" x2="254.60" y2="557.90" stroke="#000" stroke-width="2.0"/>
<rect x="96.10" y="542.50" width="27.40" height="15.40" fill="#ffffff" stroke="#000" stroke-width="1.7"/>
<rect x="134.30" y="526.00" width="27.40" height="31.90" fill="#e594f6" stroke="#000" stroke-width="1.7"/>
<rect x="172.50" y="528.60" width="27.40" height="29.30" fill="#fa9fcc" stroke="#000" stroke-width="1.7"/>
<rect x="210.60" y="520.40" width="27.40" height="37.50" fill="#f85d90" stroke="#000" stroke-width="1.7"/>
<line x1="109.80" y1="539.50" x2="109.80" y2="545.50" stroke="#000" stroke-width="1.7"/>
<line x1="102.80" y1="539.50" x2="116.80" y2="539.50" stroke="#000" stroke-width="1.7"/>
<line x1="102.80" y1="545.50" x2="116.80" y2="545.50" stroke="#000" stroke-width="1.7"/>
<line x1="148.00" y1="520.50" x2="148.00" y2="529.00" stroke="#000" stroke-width="1.7"/>
<line x1="141.00" y1="520.50" x2="155.00" y2="520.50" stroke="#000" stroke-width="1.7"/>
<line x1="141.00" y1="529.00" x2="155.00" y2="529.00" stroke="#000" stroke-width="1.7"/>
<line x1="186.20" y1="521.60" x2="186.20" y2="534.00" stroke="#000" stroke-width="1.7"/>
<line x1="179.20" y1="521.60" x2="193.20" y2="521.60" stroke="#000" stroke-width="1.7"/>
<line x1="179.20" y1="534.00" x2="193.20" y2="534.00" stroke="#000" stroke-width="1.7"/>
<line x1="224.30" y1="513.40" x2="224.30" y2="526.00" stroke="#000" stroke-width="1.7"/>
<line x1="217.30" y1="513.40" x2="231.30" y2="513.40" stroke="#000" stroke-width="1.7"/>
<line x1="217.30" y1="526.00" x2="231.30" y2="526.00" stroke="#000" stroke-width="1.7"/>
<circle cx="102.30" cy="533.84" r="2.55" fill="#fff" stroke="#000" stroke-width="1.45"/>
<circle cx="107.40" cy="533.84" r="2.55" fill="#fff" stroke="#000" stroke-width="1.45"/>
<circle cx="112.50" cy="533.84" r="2.55" fill="#fff" stroke="#000" stroke-width="1.45"/>
<circle cx="117.10" cy="533.84" r="2.55" fill="#fff" stroke="#000" stroke-width="1.45"/>
<circle cx="97.40" cy="545.87" r="2.55" fill="#fff" stroke="#000" stroke-width="1.45"/>
<circle cx="102.30" cy="545.87" r="2.55" fill="#fff" stroke="#000" stroke-width="1.45"/>
<circle cx="107.40" cy="545.87" r="2.55" fill="#fff" stroke="#000" stroke-width="1.45"/>
<circle cx="112.50" cy="545.87" r="2.55" fill="#fff" stroke="#000" stroke-width="1.45"/>
<circle cx="117.50" cy="545.87" r="2.55" fill="#fff" stroke="#000" stroke-width="1.45"/>
<circle cx="122.40" cy="545.87" r="2.55" fill="#fff" stroke="#000" stroke-width="1.45"/>
<circle cx="104.80" cy="557.90" r="2.55" fill="#fff" stroke="#000" stroke-width="1.45"/>
<circle cx="109.70" cy="557.90" r="2.55" fill="#fff" stroke="#000" stroke-width="1.45"/>
<circle cx="114.70" cy="557.90" r="2.55" fill="#fff" stroke="#000" stroke-width="1.45"/>
<rect x="132.50" y="507.08" width="5.40" height="5.40" fill="#bb55dd" stroke="#000" stroke-width="1.6"/>
<rect x="140.70" y="507.08" width="5.40" height="5.40" fill="#bb55dd" stroke="#000" stroke-width="1.6"/>
<rect x="149.10" y="507.08" width="5.40" height="5.40" fill="#bb55dd" stroke="#000" stroke-width="1.6"/>
<rect x="157.70" y="507.08" width="5.40" height="5.40" fill="#bb55dd" stroke="#000" stroke-width="1.6"/>
<rect x="132.50" y="519.11" width="5.40" height="5.40" fill="#bb55dd" stroke="#000" stroke-width="1.6"/>
<rect x="140.70" y="519.11" width="5.40" height="5.40" fill="#bb55dd" stroke="#000" stroke-width="1.6"/>
<rect x="149.10" y="519.11" width="5.40" height="5.40" fill="#bb55dd" stroke="#000" stroke-width="1.6"/>
<rect x="157.70" y="519.11" width="5.40" height="5.40" fill="#bb55dd" stroke="#000" stroke-width="1.6"/>
<rect x="140.70" y="531.14" width="5.40" height="5.40" fill="#bb55dd" stroke="#000" stroke-width="1.6"/>
<rect x="149.10" y="531.14" width="5.40" height="5.40" fill="#bb55dd" stroke="#000" stroke-width="1.6"/>
<rect x="140.70" y="543.17" width="5.40" height="5.40" fill="#bb55dd" stroke="#000" stroke-width="1.6"/>
<rect x="149.10" y="543.17" width="5.40" height="5.40" fill="#bb55dd" stroke="#000" stroke-width="1.6"/>
<path d="M186.00,482.87 L189.05,488.57 L182.95,488.57 Z" fill="#ee7aa8" stroke="#000" stroke-width="1.4" stroke-linejoin="miter"/>
<path d="M186.00,494.90 L189.05,500.60 L182.95,500.60 Z" fill="#ee7aa8" stroke="#000" stroke-width="1.4" stroke-linejoin="miter"/>
<path d="M180.10,506.93 L183.15,512.63 L177.05,512.63 Z" fill="#ee7aa8" stroke="#000" stroke-width="1.4" stroke-linejoin="miter"/>
<path d="M192.50,506.93 L195.55,512.63 L189.45,512.63 Z" fill="#ee7aa8" stroke="#000" stroke-width="1.4" stroke-linejoin="miter"/>
<path d="M180.10,518.96 L183.15,524.66 L177.05,524.66 Z" fill="#ee7aa8" stroke="#000" stroke-width="1.4" stroke-linejoin="miter"/>
<path d="M192.50,518.96 L195.55,524.66 L189.45,524.66 Z" fill="#ee7aa8" stroke="#000" stroke-width="1.4" stroke-linejoin="miter"/>
<path d="M174.00,530.99 L177.05,536.69 L170.95,536.69 Z" fill="#ee7aa8" stroke="#000" stroke-width="1.4" stroke-linejoin="miter"/>
<path d="M186.30,530.99 L189.35,536.69 L183.25,536.69 Z" fill="#ee7aa8" stroke="#000" stroke-width="1.4" stroke-linejoin="miter"/>
<path d="M198.60,530.99 L201.65,536.69 L195.55,536.69 Z" fill="#ee7aa8" stroke="#000" stroke-width="1.4" stroke-linejoin="miter"/>
<path d="M180.10,543.02 L183.15,548.72 L177.05,548.72 Z" fill="#ee7aa8" stroke="#000" stroke-width="1.4" stroke-linejoin="miter"/>
<path d="M192.50,543.02 L195.55,548.72 L189.45,548.72 Z" fill="#ee7aa8" stroke="#000" stroke-width="1.4" stroke-linejoin="miter"/>
<path d="M180.10,555.05 L183.15,560.75 L177.05,560.75 Z" fill="#ee7aa8" stroke="#000" stroke-width="1.4" stroke-linejoin="miter"/>
<path d="M192.50,555.05 L195.55,560.75 L189.45,560.75 Z" fill="#ee7aa8" stroke="#000" stroke-width="1.4" stroke-linejoin="miter"/>
<path d="M217.25,482.87 L223.35,482.87 L220.30,488.57 Z" fill="#d82e67" stroke="#000" stroke-width="1.4" stroke-linejoin="miter"/>
<path d="M225.75,482.87 L231.85,482.87 L228.80,488.57 Z" fill="#d82e67" stroke="#000" stroke-width="1.4" stroke-linejoin="miter"/>
<path d="M221.15,494.90 L227.25,494.90 L224.20,500.60 Z" fill="#d82e67" stroke="#000" stroke-width="1.4" stroke-linejoin="miter"/>
<path d="M213.05,518.96 L219.15,518.96 L216.10,524.66 Z" fill="#d82e67" stroke="#000" stroke-width="1.4" stroke-linejoin="miter"/>
<path d="M221.15,518.96 L227.25,518.96 L224.20,524.66 Z" fill="#d82e67" stroke="#000" stroke-width="1.4" stroke-linejoin="miter"/>
<path d="M229.35,518.96 L235.45,518.96 L232.40,524.66 Z" fill="#d82e67" stroke="#000" stroke-width="1.4" stroke-linejoin="miter"/>
<path d="M209.05,530.99 L215.15,530.99 L212.10,536.69 Z" fill="#d82e67" stroke="#000" stroke-width="1.4" stroke-linejoin="miter"/>
<path d="M217.25,530.99 L223.35,530.99 L220.30,536.69 Z" fill="#d82e67" stroke="#000" stroke-width="1.4" stroke-linejoin="miter"/>
<path d="M225.45,530.99 L231.55,530.99 L228.50,536.69 Z" fill="#d82e67" stroke="#000" stroke-width="1.4" stroke-linejoin="miter"/>
<path d="M233.15,530.99 L239.25,530.99 L236.20,536.69 Z" fill="#d82e67" stroke="#000" stroke-width="1.4" stroke-linejoin="miter"/>
<path d="M221.15,543.02 L227.25,543.02 L224.20,548.72 Z" fill="#d82e67" stroke="#000" stroke-width="1.4" stroke-linejoin="miter"/>
<line x1="79.50" y1="436.80" x2="79.50" y2="565.05" stroke="#000" stroke-width="2.0"/>
<line x1="78.60" y1="564.15" x2="256.40" y2="564.15" stroke="#000" stroke-width="2.2"/>
<line x1="109.80" y1="564.15" x2="109.80" y2="571.95" stroke="#000" stroke-width="1.8"/>
<text x="109.80" y="584.00" font-size="11.3" font-weight="bold" text-anchor="middle" >0</text>
<text x="109.80" y="597.60" font-size="13.3" font-weight="bold" text-anchor="middle" >Veh</text>
<line x1="148.00" y1="564.15" x2="148.00" y2="571.95" stroke="#000" stroke-width="1.8"/>
<text x="148.00" y="584.00" font-size="11.3" font-weight="bold" text-anchor="middle" >5</text>
<text x="148.00" y="597.60" font-size="13.3" font-weight="bold" text-anchor="middle" >SKF</text>
<line x1="186.20" y1="564.15" x2="186.20" y2="571.95" stroke="#000" stroke-width="1.8"/>
<text x="186.20" y="584.00" font-size="11.3" font-weight="bold" text-anchor="middle" >5</text>
<text x="186.20" y="597.60" font-size="13.3" font-weight="bold" text-anchor="middle" >MLM</text>
<line x1="224.30" y1="564.15" x2="224.30" y2="571.95" stroke="#000" stroke-width="1.8"/>
<text x="224.30" y="584.00" font-size="11.3" font-weight="bold" text-anchor="middle" >10</text>
<text x="224.30" y="597.60" font-size="13.3" font-weight="bold" text-anchor="middle" >MLM</text>
<text x="6.80" y="583.40" font-size="11.6" font-weight="bold" textLength="74.3" lengthAdjust="spacingAndGlyphs">Dose (mg/kg)</text>
<path d="M110.20,458.30 L110.20,451.50 L224.20,451.50 L224.20,458.30" fill="none" stroke="#000" stroke-width="1.3"/>
<path d="M159.80,448.20 L162.90,444.80 L166.00,448.20" fill="none" stroke="#000" stroke-width="2.0" stroke-linejoin="miter"/>
<path d="M168.80,448.20 L171.90,444.80 L175.00,448.20" fill="none" stroke="#000" stroke-width="2.0" stroke-linejoin="miter"/>
<path d="M110.20,478.20 L110.20,471.80 L186.50,471.80 L186.50,478.20" fill="none" stroke="#000" stroke-width="1.3"/>
<path d="M144.70,467.80 L147.80,464.40 L150.90,467.80" fill="none" stroke="#000" stroke-width="2.0" stroke-linejoin="miter"/>
<path d="M110.20,498.50 L110.20,492.70 L148.30,492.70 L148.30,498.50" fill="none" stroke="#000" stroke-width="1.3"/>
<path d="M125.70,488.20 L128.80,485.50 L131.90,488.20" fill="none" stroke="#000" stroke-width="2.0" stroke-linejoin="miter"/>
<text x="292.90" y="424.80" font-size="18.0" font-weight="bold" text-anchor="start" >F</text>
<text transform="translate(303.50,500.00) rotate(-90)" font-size="12.9" font-weight="bold" text-anchor="middle" textLength="120.5" lengthAdjust="spacingAndGlyphs">Supported Rearing</text>
<text transform="translate(319.10,500.00) rotate(-90)" font-size="12.5" font-weight="bold" text-anchor="middle" textLength="94.0" lengthAdjust="spacingAndGlyphs">(score/85-min)</text>
<line x1="360.30" y1="557.90" x2="366.60" y2="557.90" stroke="#000" stroke-width="1.8"/>
<text x="358.40" y="561.80" font-size="11.3" font-weight="bold" text-anchor="end" >0</text>
<line x1="360.30" y1="533.86" x2="366.60" y2="533.86" stroke="#000" stroke-width="1.8"/>
<text x="358.40" y="537.76" font-size="11.3" font-weight="bold" text-anchor="end" >2</text>
<line x1="360.30" y1="509.82" x2="366.60" y2="509.82" stroke="#000" stroke-width="1.8"/>
<text x="358.40" y="513.72" font-size="11.3" font-weight="bold" text-anchor="end" >4</text>
<line x1="360.30" y1="485.78" x2="366.60" y2="485.78" stroke="#000" stroke-width="1.8"/>
<text x="358.40" y="489.68" font-size="11.3" font-weight="bold" text-anchor="end" >6</text>
<line x1="360.30" y1="461.74" x2="366.60" y2="461.74" stroke="#000" stroke-width="1.8"/>
<text x="358.40" y="465.64" font-size="11.3" font-weight="bold" text-anchor="end" >8</text>
<line x1="360.30" y1="437.70" x2="366.60" y2="437.70" stroke="#000" stroke-width="1.8"/>
<text x="358.40" y="441.60" font-size="11.3" font-weight="bold" text-anchor="end" >10</text>
<line x1="362.80" y1="545.88" x2="366.60" y2="545.88" stroke="#000" stroke-width="1.6"/>
<line x1="362.80" y1="521.84" x2="366.60" y2="521.84" stroke="#000" stroke-width="1.6"/>
<line x1="362.80" y1="497.80" x2="366.60" y2="497.80" stroke="#000" stroke-width="1.6"/>
<line x1="362.80" y1="473.76" x2="366.60" y2="473.76" stroke="#000" stroke-width="1.6"/>
<line x1="362.80" y1="449.72" x2="366.60" y2="449.72" stroke="#000" stroke-width="1.6"/>
<line x1="360.30" y1="558.00" x2="541.80" y2="558.00" stroke="#000" stroke-width="2.0"/>
<rect x="383.20" y="540.40" width="27.40" height="17.60" fill="#ffffff" stroke="#000" stroke-width="1.7"/>
<rect x="421.40" y="528.50" width="27.40" height="29.50" fill="#e594f6" stroke="#000" stroke-width="1.7"/>
<rect x="459.60" y="515.60" width="27.40" height="42.40" fill="#fa9fcc" stroke="#000" stroke-width="1.7"/>
<rect x="497.60" y="516.00" width="27.40" height="42.00" fill="#f85d90" stroke="#000" stroke-width="1.7"/>
<line x1="396.90" y1="534.20" x2="396.90" y2="546.00" stroke="#000" stroke-width="1.7"/>
<line x1="389.90" y1="534.20" x2="403.90" y2="534.20" stroke="#000" stroke-width="1.7"/>
<line x1="389.90" y1="546.00" x2="403.90" y2="546.00" stroke="#000" stroke-width="1.7"/>
<line x1="435.10" y1="524.40" x2="435.10" y2="532.50" stroke="#000" stroke-width="1.7"/>
<line x1="428.10" y1="524.40" x2="442.10" y2="524.40" stroke="#000" stroke-width="1.7"/>
<line x1="428.10" y1="532.50" x2="442.10" y2="532.50" stroke="#000" stroke-width="1.7"/>
<line x1="473.30" y1="508.70" x2="473.30" y2="522.00" stroke="#000" stroke-width="1.7"/>
<line x1="466.30" y1="508.70" x2="480.30" y2="508.70" stroke="#000" stroke-width="1.7"/>
<line x1="466.30" y1="522.00" x2="480.30" y2="522.00" stroke="#000" stroke-width="1.7"/>
<line x1="511.30" y1="507.30" x2="511.30" y2="523.00" stroke="#000" stroke-width="1.7"/>
<line x1="504.30" y1="507.30" x2="518.30" y2="507.30" stroke="#000" stroke-width="1.7"/>
<line x1="504.30" y1="523.00" x2="518.30" y2="523.00" stroke="#000" stroke-width="1.7"/>
<circle cx="396.90" cy="509.82" r="2.55" fill="#fff" stroke="#000" stroke-width="1.45"/>
<circle cx="393.60" cy="521.84" r="2.55" fill="#fff" stroke="#000" stroke-width="1.45"/>
<circle cx="399.70" cy="521.84" r="2.55" fill="#fff" stroke="#000" stroke-width="1.45"/>
<circle cx="396.90" cy="533.86" r="2.55" fill="#fff" stroke="#000" stroke-width="1.45"/>
<circle cx="384.30" cy="545.88" r="2.55" fill="#fff" stroke="#000" stroke-width="1.45"/>
<circle cx="390.40" cy="545.88" r="2.55" fill="#fff" stroke="#000" stroke-width="1.45"/>
<circle cx="396.90" cy="545.88" r="2.55" fill="#fff" stroke="#000" stroke-width="1.45"/>
<circle cx="403.00" cy="545.88" r="2.55" fill="#fff" stroke="#000" stroke-width="1.45"/>
<circle cx="409.20" cy="545.88" r="2.55" fill="#fff" stroke="#000" stroke-width="1.45"/>
<circle cx="393.60" cy="557.90" r="2.55" fill="#fff" stroke="#000" stroke-width="1.45"/>
<circle cx="399.70" cy="557.90" r="2.55" fill="#fff" stroke="#000" stroke-width="1.45"/>
<rect x="432.30" y="507.12" width="5.40" height="5.40" fill="#bb55dd" stroke="#000" stroke-width="1.6"/>
<rect x="419.90" y="519.14" width="5.40" height="5.40" fill="#bb55dd" stroke="#000" stroke-width="1.6"/>
<rect x="428.10" y="519.14" width="5.40" height="5.40" fill="#bb55dd" stroke="#000" stroke-width="1.6"/>
<rect x="436.30" y="519.14" width="5.40" height="5.40" fill="#bb55dd" stroke="#000" stroke-width="1.6"/>
<rect x="444.50" y="519.14" width="5.40" height="5.40" fill="#bb55dd" stroke="#000" stroke-width="1.6"/>
<rect x="424.20" y="531.16" width="5.40" height="5.40" fill="#bb55dd" stroke="#000" stroke-width="1.6"/>
<rect x="432.30" y="531.16" width="5.40" height="5.40" fill="#bb55dd" stroke="#000" stroke-width="1.6"/>
<rect x="440.50" y="531.16" width="5.40" height="5.40" fill="#bb55dd" stroke="#000" stroke-width="1.6"/>
<rect x="432.30" y="543.18" width="5.40" height="5.40" fill="#bb55dd" stroke="#000" stroke-width="1.6"/>
<path d="M470.40,482.93 L473.45,488.63 L467.35,488.63 Z" fill="#ee7aa8" stroke="#000" stroke-width="1.4" stroke-linejoin="miter"/>
<path d="M476.40,482.93 L479.45,488.63 L473.35,488.63 Z" fill="#ee7aa8" stroke="#000" stroke-width="1.4" stroke-linejoin="miter"/>
<path d="M473.30,494.95 L476.35,500.65 L470.25,500.65 Z" fill="#ee7aa8" stroke="#000" stroke-width="1.4" stroke-linejoin="miter"/>
<path d="M473.30,506.97 L476.35,512.67 L470.25,512.67 Z" fill="#ee7aa8" stroke="#000" stroke-width="1.4" stroke-linejoin="miter"/>
<path d="M460.90,518.99 L463.95,524.69 L457.85,524.69 Z" fill="#ee7aa8" stroke="#000" stroke-width="1.4" stroke-linejoin="miter"/>
<path d="M467.30,518.99 L470.35,524.69 L464.25,524.69 Z" fill="#ee7aa8" stroke="#000" stroke-width="1.4" stroke-linejoin="miter"/>
<path d="M473.30,518.99 L476.35,524.69 L470.25,524.69 Z" fill="#ee7aa8" stroke="#000" stroke-width="1.4" stroke-linejoin="miter"/>
<path d="M479.50,518.99 L482.55,524.69 L476.45,524.69 Z" fill="#ee7aa8" stroke="#000" stroke-width="1.4" stroke-linejoin="miter"/>
<path d="M485.50,518.99 L488.55,524.69 L482.45,524.69 Z" fill="#ee7aa8" stroke="#000" stroke-width="1.4" stroke-linejoin="miter"/>
<path d="M470.40,531.01 L473.45,536.71 L467.35,536.71 Z" fill="#ee7aa8" stroke="#000" stroke-width="1.4" stroke-linejoin="miter"/>
<path d="M476.40,531.01 L479.45,536.71 L473.35,536.71 Z" fill="#ee7aa8" stroke="#000" stroke-width="1.4" stroke-linejoin="miter"/>
<path d="M508.45,470.91 L514.55,470.91 L511.50,476.61 Z" fill="#d82e67" stroke="#000" stroke-width="1.4" stroke-linejoin="miter"/>
<path d="M496.05,494.95 L502.15,494.95 L499.10,500.65 Z" fill="#d82e67" stroke="#000" stroke-width="1.4" stroke-linejoin="miter"/>
<path d="M508.45,494.95 L514.55,494.95 L511.50,500.65 Z" fill="#d82e67" stroke="#000" stroke-width="1.4" stroke-linejoin="miter"/>
<path d="M520.55,494.95 L526.65,494.95 L523.60,500.65 Z" fill="#d82e67" stroke="#000" stroke-width="1.4" stroke-linejoin="miter"/>
<path d="M508.45,506.97 L514.55,506.97 L511.50,512.67 Z" fill="#d82e67" stroke="#000" stroke-width="1.4" stroke-linejoin="miter"/>
<path d="M508.45,518.99 L514.55,518.99 L511.50,524.69 Z" fill="#d82e67" stroke="#000" stroke-width="1.4" stroke-linejoin="miter"/>
<path d="M496.05,531.01 L502.15,531.01 L499.10,536.71 Z" fill="#d82e67" stroke="#000" stroke-width="1.4" stroke-linejoin="miter"/>
<path d="M508.45,531.01 L514.55,531.01 L511.50,536.71 Z" fill="#d82e67" stroke="#000" stroke-width="1.4" stroke-linejoin="miter"/>
<path d="M520.55,531.01 L526.65,531.01 L523.60,536.71 Z" fill="#d82e67" stroke="#000" stroke-width="1.4" stroke-linejoin="miter"/>
<path d="M508.45,543.03 L514.55,543.03 L511.50,548.73 Z" fill="#d82e67" stroke="#000" stroke-width="1.4" stroke-linejoin="miter"/>
<line x1="366.60" y1="436.90" x2="366.60" y2="564.75" stroke="#000" stroke-width="2.0"/>
<line x1="365.70" y1="563.85" x2="542.20" y2="563.85" stroke="#000" stroke-width="2.2"/>
<line x1="396.90" y1="563.85" x2="396.90" y2="571.65" stroke="#000" stroke-width="1.8"/>
<text x="396.90" y="584.00" font-size="11.3" font-weight="bold" text-anchor="middle" >0</text>
<text x="396.90" y="597.80" font-size="13.3" font-weight="bold" text-anchor="middle" >Veh</text>
<line x1="435.10" y1="563.85" x2="435.10" y2="571.65" stroke="#000" stroke-width="1.8"/>
<text x="435.10" y="584.00" font-size="11.3" font-weight="bold" text-anchor="middle" >5</text>
<text x="435.10" y="597.80" font-size="13.3" font-weight="bold" text-anchor="middle" >SKF</text>
<line x1="473.30" y1="563.85" x2="473.30" y2="571.65" stroke="#000" stroke-width="1.8"/>
<text x="473.30" y="584.00" font-size="11.3" font-weight="bold" text-anchor="middle" >5</text>
<text x="473.30" y="597.80" font-size="13.3" font-weight="bold" text-anchor="middle" >MLM</text>
<line x1="511.30" y1="563.85" x2="511.30" y2="571.65" stroke="#000" stroke-width="1.8"/>
<text x="511.30" y="584.00" font-size="11.3" font-weight="bold" text-anchor="middle" >10</text>
<text x="511.30" y="597.80" font-size="13.3" font-weight="bold" text-anchor="middle" >MLM</text>
<text x="293.30" y="583.40" font-size="11.6" font-weight="bold" textLength="74.3" lengthAdjust="spacingAndGlyphs">Dose (mg/kg)</text>
<path d="M396.90,457.80 L396.90,451.80 L511.40,451.80 L511.40,457.80" fill="none" stroke="#000" stroke-width="1.3"/>
<path d="M446.00,448.40 L449.10,445.20 L452.20,448.40" fill="none" stroke="#000" stroke-width="2.0" stroke-linejoin="miter"/>
<path d="M455.00,448.40 L458.10,445.20 L461.20,448.40" fill="none" stroke="#000" stroke-width="2.0" stroke-linejoin="miter"/>
<path d="M396.90,477.70 L396.90,471.50 L473.30,471.50 L473.30,477.70" fill="none" stroke="#000" stroke-width="1.3"/>
<path d="M428.30,467.50 L431.40,464.30 L434.50,467.50" fill="none" stroke="#000" stroke-width="2.0" stroke-linejoin="miter"/>
<path d="M437.30,467.50 L440.40,464.30 L443.50,467.50" fill="none" stroke="#000" stroke-width="2.0" stroke-linejoin="miter"/>
<text x="6.20" y="629.80" font-size="18.0" font-weight="bold" text-anchor="start" >G</text>
<text transform="translate(16.30,705.00) rotate(-90)" font-size="12.9" font-weight="bold" text-anchor="middle" textLength="57.5" lengthAdjust="spacingAndGlyphs">Climbing</text>
<text transform="translate(31.50,705.00) rotate(-90)" font-size="12.5" font-weight="bold" text-anchor="middle" textLength="93.5" lengthAdjust="spacingAndGlyphs">(score/85-min)</text>
<line x1="73.50" y1="762.90" x2="79.80" y2="762.90" stroke="#000" stroke-width="1.8"/>
<text x="71.60" y="766.80" font-size="11.3" font-weight="bold" text-anchor="end" >0</text>
<line x1="73.50" y1="732.96" x2="79.80" y2="732.96" stroke="#000" stroke-width="1.8"/>
<text x="71.60" y="736.86" font-size="11.3" font-weight="bold" text-anchor="end" >2</text>
<line x1="73.50" y1="703.02" x2="79.80" y2="703.02" stroke="#000" stroke-width="1.8"/>
<text x="71.60" y="706.92" font-size="11.3" font-weight="bold" text-anchor="end" >4</text>
<line x1="73.50" y1="673.08" x2="79.80" y2="673.08" stroke="#000" stroke-width="1.8"/>
<text x="71.60" y="676.98" font-size="11.3" font-weight="bold" text-anchor="end" >6</text>
<line x1="73.50" y1="643.14" x2="79.80" y2="643.14" stroke="#000" stroke-width="1.8"/>
<text x="71.60" y="647.04" font-size="11.3" font-weight="bold" text-anchor="end" >8</text>
<line x1="76.00" y1="747.93" x2="79.80" y2="747.93" stroke="#000" stroke-width="1.6"/>
<line x1="76.00" y1="717.99" x2="79.80" y2="717.99" stroke="#000" stroke-width="1.6"/>
<line x1="76.00" y1="688.05" x2="79.80" y2="688.05" stroke="#000" stroke-width="1.6"/>
<line x1="76.00" y1="658.11" x2="79.80" y2="658.11" stroke="#000" stroke-width="1.6"/>
<line x1="73.50" y1="762.90" x2="255.90" y2="762.90" stroke="#000" stroke-width="2.0"/>
<rect x="96.70" y="759.20" width="27.40" height="3.70" fill="#ffffff" stroke="#000" stroke-width="1.7"/>
<rect x="135.00" y="748.50" width="27.40" height="14.40" fill="#e594f6" stroke="#000" stroke-width="1.7"/>
<rect x="173.10" y="748.00" width="27.40" height="14.90" fill="#fa9fcc" stroke="#000" stroke-width="1.7"/>
<rect x="211.20" y="751.00" width="27.40" height="11.90" fill="#f85d90" stroke="#000" stroke-width="1.7"/>
<line x1="110.40" y1="757.10" x2="110.40" y2="761.00" stroke="#000" stroke-width="1.7"/>
<line x1="103.40" y1="757.10" x2="117.40" y2="757.10" stroke="#000" stroke-width="1.7"/>
<line x1="103.40" y1="761.00" x2="117.40" y2="761.00" stroke="#000" stroke-width="1.7"/>
<line x1="148.70" y1="741.00" x2="148.70" y2="754.50" stroke="#000" stroke-width="1.7"/>
<line x1="141.70" y1="741.00" x2="155.70" y2="741.00" stroke="#000" stroke-width="1.7"/>
<line x1="141.70" y1="754.50" x2="155.70" y2="754.50" stroke="#000" stroke-width="1.7"/>
<line x1="186.80" y1="739.80" x2="186.80" y2="754.00" stroke="#000" stroke-width="1.7"/>
<line x1="179.80" y1="739.80" x2="193.80" y2="739.80" stroke="#000" stroke-width="1.7"/>
<line x1="179.80" y1="754.00" x2="193.80" y2="754.00" stroke="#000" stroke-width="1.7"/>
<line x1="224.90" y1="744.50" x2="224.90" y2="755.50" stroke="#000" stroke-width="1.7"/>
<line x1="217.90" y1="744.50" x2="231.90" y2="744.50" stroke="#000" stroke-width="1.7"/>
<line x1="217.90" y1="755.50" x2="231.90" y2="755.50" stroke="#000" stroke-width="1.7"/>
<circle cx="107.20" cy="747.93" r="2.55" fill="#fff" stroke="#000" stroke-width="1.45"/>
<circle cx="112.90" cy="747.93" r="2.55" fill="#fff" stroke="#000" stroke-width="1.45"/>
<circle cx="97.00" cy="762.90" r="2.55" fill="#fff" stroke="#000" stroke-width="1.45"/>
<circle cx="100.60" cy="762.90" r="2.55" fill="#fff" stroke="#000" stroke-width="1.45"/>
<circle cx="106.00" cy="762.90" r="2.55" fill="#fff" stroke="#000" stroke-width="1.45"/>
<circle cx="111.50" cy="762.90" r="2.55" fill="#fff" stroke="#000" stroke-width="1.45"/>
<circle cx="116.90" cy="762.90" r="2.55" fill="#fff" stroke="#000" stroke-width="1.45"/>
<circle cx="122.40" cy="762.90" r="2.55" fill="#fff" stroke="#000" stroke-width="1.45"/>
<rect x="142.80" y="700.32" width="5.40" height="5.40" fill="#bb55dd" stroke="#000" stroke-width="1.6"/>
<rect x="148.50" y="700.32" width="5.40" height="5.40" fill="#bb55dd" stroke="#000" stroke-width="1.6"/>
<rect x="146.00" y="730.26" width="5.40" height="5.40" fill="#bb55dd" stroke="#000" stroke-width="1.6"/>
<rect x="143.60" y="745.23" width="5.40" height="5.40" fill="#bb55dd" stroke="#000" stroke-width="1.6"/>
<rect x="148.50" y="745.23" width="5.40" height="5.40" fill="#bb55dd" stroke="#000" stroke-width="1.6"/>
<rect x="133.30" y="760.20" width="5.40" height="5.40" fill="#bb55dd" stroke="#000" stroke-width="1.6"/>
<rect x="137.60" y="760.20" width="5.40" height="5.40" fill="#bb55dd" stroke="#000" stroke-width="1.6"/>
<rect x="141.90" y="760.20" width="5.40" height="5.40" fill="#bb55dd" stroke="#000" stroke-width="1.6"/>
<rect x="146.30" y="760.20" width="5.40" height="5.40" fill="#bb55dd" stroke="#000" stroke-width="1.6"/>
<rect x="150.70" y="760.20" width="5.40" height="5.40" fill="#bb55dd" stroke="#000" stroke-width="1.6"/>
<rect x="155.10" y="760.20" width="5.40" height="5.40" fill="#bb55dd" stroke="#000" stroke-width="1.6"/>
<rect x="159.30" y="760.20" width="5.40" height="5.40" fill="#bb55dd" stroke="#000" stroke-width="1.6"/>
<path d="M186.80,685.20 L189.85,690.90 L183.75,690.90 Z" fill="#ee7aa8" stroke="#000" stroke-width="1.4" stroke-linejoin="miter"/>
<path d="M186.80,715.14 L189.85,720.84 L183.75,720.84 Z" fill="#ee7aa8" stroke="#000" stroke-width="1.4" stroke-linejoin="miter"/>
<path d="M186.80,730.11 L189.85,735.81 L183.75,735.81 Z" fill="#ee7aa8" stroke="#000" stroke-width="1.4" stroke-linejoin="miter"/>
<path d="M179.20,745.08 L182.25,750.78 L176.15,750.78 Z" fill="#ee7aa8" stroke="#000" stroke-width="1.4" stroke-linejoin="miter"/>
<path d="M184.10,745.08 L187.15,750.78 L181.05,750.78 Z" fill="#ee7aa8" stroke="#000" stroke-width="1.4" stroke-linejoin="miter"/>
<path d="M189.00,745.08 L192.05,750.78 L185.95,750.78 Z" fill="#ee7aa8" stroke="#000" stroke-width="1.4" stroke-linejoin="miter"/>
<path d="M194.10,745.08 L197.15,750.78 L191.05,750.78 Z" fill="#ee7aa8" stroke="#000" stroke-width="1.4" stroke-linejoin="miter"/>
<path d="M174.10,760.05 L177.15,765.75 L171.05,765.75 Z" fill="#ee7aa8" stroke="#000" stroke-width="1.4" stroke-linejoin="miter"/>
<path d="M179.20,760.05 L182.25,765.75 L176.15,765.75 Z" fill="#ee7aa8" stroke="#000" stroke-width="1.4" stroke-linejoin="miter"/>
<path d="M184.10,760.05 L187.15,765.75 L181.05,765.75 Z" fill="#ee7aa8" stroke="#000" stroke-width="1.4" stroke-linejoin="miter"/>
<path d="M189.00,760.05 L192.05,765.75 L185.95,765.75 Z" fill="#ee7aa8" stroke="#000" stroke-width="1.4" stroke-linejoin="miter"/>
<path d="M194.10,760.05 L197.15,765.75 L191.05,765.75 Z" fill="#ee7aa8" stroke="#000" stroke-width="1.4" stroke-linejoin="miter"/>
<path d="M199.20,760.05 L202.25,765.75 L196.15,765.75 Z" fill="#ee7aa8" stroke="#000" stroke-width="1.4" stroke-linejoin="miter"/>
<path d="M221.55,700.17 L227.65,700.17 L224.60,705.87 Z" fill="#d82e67" stroke="#000" stroke-width="1.4" stroke-linejoin="miter"/>
<path d="M221.55,730.11 L227.65,730.11 L224.60,735.81 Z" fill="#d82e67" stroke="#000" stroke-width="1.4" stroke-linejoin="miter"/>
<path d="M216.45,745.08 L222.55,745.08 L219.50,750.78 Z" fill="#d82e67" stroke="#000" stroke-width="1.4" stroke-linejoin="miter"/>
<path d="M221.55,745.08 L227.65,745.08 L224.60,750.78 Z" fill="#d82e67" stroke="#000" stroke-width="1.4" stroke-linejoin="miter"/>
<path d="M226.45,745.08 L232.55,745.08 L229.50,750.78 Z" fill="#d82e67" stroke="#000" stroke-width="1.4" stroke-linejoin="miter"/>
<path d="M209.55,760.05 L215.65,760.05 L212.60,765.75 Z" fill="#d82e67" stroke="#000" stroke-width="1.4" stroke-linejoin="miter"/>
<path d="M214.65,760.05 L220.75,760.05 L217.70,765.75 Z" fill="#d82e67" stroke="#000" stroke-width="1.4" stroke-linejoin="miter"/>
<path d="M219.75,760.05 L225.85,760.05 L222.80,765.75 Z" fill="#d82e67" stroke="#000" stroke-width="1.4" stroke-linejoin="miter"/>
<path d="M224.65,760.05 L230.75,760.05 L227.70,765.75 Z" fill="#d82e67" stroke="#000" stroke-width="1.4" stroke-linejoin="miter"/>
<path d="M229.55,760.05 L235.65,760.05 L232.60,765.75 Z" fill="#d82e67" stroke="#000" stroke-width="1.4" stroke-linejoin="miter"/>
<path d="M234.35,760.05 L240.45,760.05 L237.40,765.75 Z" fill="#d82e67" stroke="#000" stroke-width="1.4" stroke-linejoin="miter"/>
<line x1="79.80" y1="642.34" x2="79.80" y2="769.75" stroke="#000" stroke-width="2.0"/>
<line x1="78.90" y1="768.85" x2="256.30" y2="768.85" stroke="#000" stroke-width="2.2"/>
<line x1="110.40" y1="768.85" x2="110.40" y2="776.65" stroke="#000" stroke-width="1.8"/>
<text x="110.40" y="789.00" font-size="11.3" font-weight="bold" text-anchor="middle" >0</text>
<text x="110.40" y="803.00" font-size="13.3" font-weight="bold" text-anchor="middle" >Veh</text>
<line x1="148.70" y1="768.85" x2="148.70" y2="776.65" stroke="#000" stroke-width="1.8"/>
<text x="148.70" y="789.00" font-size="11.3" font-weight="bold" text-anchor="middle" >5</text>
<text x="148.70" y="803.00" font-size="13.3" font-weight="bold" text-anchor="middle" >SKF</text>
<line x1="186.80" y1="768.85" x2="186.80" y2="776.65" stroke="#000" stroke-width="1.8"/>
<text x="186.80" y="789.00" font-size="11.3" font-weight="bold" text-anchor="middle" >5</text>
<text x="186.80" y="803.00" font-size="13.3" font-weight="bold" text-anchor="middle" >MLM</text>
<line x1="224.90" y1="768.85" x2="224.90" y2="776.65" stroke="#000" stroke-width="1.8"/>
<text x="224.90" y="789.00" font-size="11.3" font-weight="bold" text-anchor="middle" >10</text>
<text x="224.90" y="803.00" font-size="13.3" font-weight="bold" text-anchor="middle" >MLM</text>
<text x="6.80" y="788.40" font-size="11.6" font-weight="bold" textLength="74.3" lengthAdjust="spacingAndGlyphs">Dose (mg/kg)</text>
<text x="292.80" y="629.80" font-size="18.0" font-weight="bold" text-anchor="start" >H</text>
<text transform="translate(303.30,705.00) rotate(-90)" font-size="12.9" font-weight="bold" text-anchor="middle" textLength="57.5" lengthAdjust="spacingAndGlyphs">Climbing</text>
<text transform="translate(318.80,705.00) rotate(-90)" font-size="12.5" font-weight="bold" text-anchor="middle" textLength="93.5" lengthAdjust="spacingAndGlyphs">(score/85-min)</text>
<line x1="360.50" y1="761.80" x2="366.80" y2="761.80" stroke="#000" stroke-width="1.8"/>
<text x="358.60" y="765.70" font-size="11.3" font-weight="bold" text-anchor="end" >0</text>
<line x1="360.50" y1="731.80" x2="366.80" y2="731.80" stroke="#000" stroke-width="1.8"/>
<text x="358.60" y="735.70" font-size="11.3" font-weight="bold" text-anchor="end" >2</text>
<line x1="360.50" y1="701.80" x2="366.80" y2="701.80" stroke="#000" stroke-width="1.8"/>
<text x="358.60" y="705.70" font-size="11.3" font-weight="bold" text-anchor="end" >4</text>
<line x1="360.50" y1="671.80" x2="366.80" y2="671.80" stroke="#000" stroke-width="1.8"/>
<text x="358.60" y="675.70" font-size="11.3" font-weight="bold" text-anchor="end" >6</text>
<line x1="360.50" y1="641.80" x2="366.80" y2="641.80" stroke="#000" stroke-width="1.8"/>
<text x="358.60" y="645.70" font-size="11.3" font-weight="bold" text-anchor="end" >8</text>
<line x1="363.00" y1="746.80" x2="366.80" y2="746.80" stroke="#000" stroke-width="1.6"/>
<line x1="363.00" y1="716.80" x2="366.80" y2="716.80" stroke="#000" stroke-width="1.6"/>
<line x1="363.00" y1="686.80" x2="366.80" y2="686.80" stroke="#000" stroke-width="1.6"/>
<line x1="363.00" y1="656.80" x2="366.80" y2="656.80" stroke="#000" stroke-width="1.6"/>
<line x1="360.50" y1="761.80" x2="542.70" y2="761.80" stroke="#000" stroke-width="2.0"/>
<rect x="383.70" y="761.80" width="27.40" height="0.01" fill="#ffffff" stroke="#000" stroke-width="1.7"/>
<rect x="421.80" y="758.80" width="27.40" height="3.00" fill="#e594f6" stroke="#000" stroke-width="1.7"/>
<rect x="460.10" y="749.60" width="27.40" height="12.20" fill="#fa9fcc" stroke="#000" stroke-width="1.7"/>
<rect x="498.10" y="744.30" width="27.40" height="17.50" fill="#f85d90" stroke="#000" stroke-width="1.7"/>
<line x1="435.50" y1="755.80" x2="435.50" y2="761.80" stroke="#000" stroke-width="1.7"/>
<line x1="428.50" y1="755.80" x2="442.50" y2="755.80" stroke="#000" stroke-width="1.7"/>
<line x1="428.50" y1="761.80" x2="442.50" y2="761.80" stroke="#000" stroke-width="1.7"/>
<line x1="473.80" y1="741.80" x2="473.80" y2="756.00" stroke="#000" stroke-width="1.7"/>
<line x1="466.80" y1="741.80" x2="480.80" y2="741.80" stroke="#000" stroke-width="1.7"/>
<line x1="466.80" y1="756.00" x2="480.80" y2="756.00" stroke="#000" stroke-width="1.7"/>
<line x1="511.80" y1="738.20" x2="511.80" y2="749.60" stroke="#000" stroke-width="1.7"/>
<line x1="504.80" y1="738.20" x2="518.80" y2="738.20" stroke="#000" stroke-width="1.7"/>
<line x1="504.80" y1="749.60" x2="518.80" y2="749.60" stroke="#000" stroke-width="1.7"/>
<circle cx="385.50" cy="761.80" r="2.55" fill="#fff" stroke="#000" stroke-width="1.45"/>
<circle cx="389.00" cy="761.80" r="2.55" fill="#fff" stroke="#000" stroke-width="1.45"/>
<circle cx="392.40" cy="761.80" r="2.55" fill="#fff" stroke="#000" stroke-width="1.45"/>
<circle cx="395.90" cy="761.80" r="2.55" fill="#fff" stroke="#000" stroke-width="1.45"/>
<circle cx="399.30" cy="761.80" r="2.55" fill="#fff" stroke="#000" stroke-width="1.45"/>
<circle cx="402.80" cy="761.80" r="2.55" fill="#fff" stroke="#000" stroke-width="1.45"/>
<circle cx="406.20" cy="761.80" r="2.55" fill="#fff" stroke="#000" stroke-width="1.45"/>
<circle cx="409.70" cy="761.80" r="2.55" fill="#fff" stroke="#000" stroke-width="1.45"/>
<rect x="430.90" y="744.10" width="5.40" height="5.40" fill="#bb55dd" stroke="#000" stroke-width="1.6"/>
<rect x="435.50" y="744.10" width="5.40" height="5.40" fill="#bb55dd" stroke="#000" stroke-width="1.6"/>
<rect x="420.80" y="759.10" width="5.40" height="5.40" fill="#bb55dd" stroke="#000" stroke-width="1.6"/>
<rect x="424.80" y="759.10" width="5.40" height="5.40" fill="#bb55dd" stroke="#000" stroke-width="1.6"/>
<rect x="428.80" y="759.10" width="5.40" height="5.40" fill="#bb55dd" stroke="#000" stroke-width="1.6"/>
<rect x="432.80" y="759.10" width="5.40" height="5.40" fill="#bb55dd" stroke="#000" stroke-width="1.6"/>
<rect x="436.80" y="759.10" width="5.40" height="5.40" fill="#bb55dd" stroke="#000" stroke-width="1.6"/>
<rect x="440.80" y="759.10" width="5.40" height="5.40" fill="#bb55dd" stroke="#000" stroke-width="1.6"/>
<rect x="444.80" y="759.10" width="5.40" height="5.40" fill="#bb55dd" stroke="#000" stroke-width="1.6"/>
<path d="M473.60,698.95 L476.65,704.65 L470.55,704.65 Z" fill="#ee7aa8" stroke="#000" stroke-width="1.4" stroke-linejoin="miter"/>
<path d="M473.60,713.95 L476.65,719.65 L470.55,719.65 Z" fill="#ee7aa8" stroke="#000" stroke-width="1.4" stroke-linejoin="miter"/>
<path d="M473.60,728.95 L476.65,734.65 L470.55,734.65 Z" fill="#ee7aa8" stroke="#000" stroke-width="1.4" stroke-linejoin="miter"/>
<path d="M473.60,743.95 L476.65,749.65 L470.55,749.65 Z" fill="#ee7aa8" stroke="#000" stroke-width="1.4" stroke-linejoin="miter"/>
<path d="M461.30,758.95 L464.35,764.65 L458.25,764.65 Z" fill="#ee7aa8" stroke="#000" stroke-width="1.4" stroke-linejoin="miter"/>
<path d="M466.00,758.95 L469.05,764.65 L462.95,764.65 Z" fill="#ee7aa8" stroke="#000" stroke-width="1.4" stroke-linejoin="miter"/>
<path d="M470.40,758.95 L473.45,764.65 L467.35,764.65 Z" fill="#ee7aa8" stroke="#000" stroke-width="1.4" stroke-linejoin="miter"/>
<path d="M475.10,758.95 L478.15,764.65 L472.05,764.65 Z" fill="#ee7aa8" stroke="#000" stroke-width="1.4" stroke-linejoin="miter"/>
<path d="M479.10,758.95 L482.15,764.65 L476.05,764.65 Z" fill="#ee7aa8" stroke="#000" stroke-width="1.4" stroke-linejoin="miter"/>
<path d="M483.60,758.95 L486.65,764.65 L480.55,764.65 Z" fill="#ee7aa8" stroke="#000" stroke-width="1.4" stroke-linejoin="miter"/>
<path d="M487.30,758.95 L490.35,764.65 L484.25,764.65 Z" fill="#ee7aa8" stroke="#000" stroke-width="1.4" stroke-linejoin="miter"/>
<path d="M504.55,713.95 L510.65,713.95 L507.60,719.65 Z" fill="#d82e67" stroke="#000" stroke-width="1.4" stroke-linejoin="miter"/>
<path d="M513.15,713.95 L519.25,713.95 L516.20,719.65 Z" fill="#d82e67" stroke="#000" stroke-width="1.4" stroke-linejoin="miter"/>
<path d="M508.75,728.95 L514.85,728.95 L511.80,734.65 Z" fill="#d82e67" stroke="#000" stroke-width="1.4" stroke-linejoin="miter"/>
<path d="M496.25,743.95 L502.35,743.95 L499.30,749.65 Z" fill="#d82e67" stroke="#000" stroke-width="1.4" stroke-linejoin="miter"/>
<path d="M504.75,743.95 L510.85,743.95 L507.80,749.65 Z" fill="#d82e67" stroke="#000" stroke-width="1.4" stroke-linejoin="miter"/>
<path d="M508.65,743.95 L514.75,743.95 L511.70,749.65 Z" fill="#d82e67" stroke="#000" stroke-width="1.4" stroke-linejoin="miter"/>
<path d="M512.55,743.95 L518.65,743.95 L515.60,749.65 Z" fill="#d82e67" stroke="#000" stroke-width="1.4" stroke-linejoin="miter"/>
<path d="M521.15,743.95 L527.25,743.95 L524.20,749.65 Z" fill="#d82e67" stroke="#000" stroke-width="1.4" stroke-linejoin="miter"/>
<path d="M499.95,758.95 L506.05,758.95 L503.00,764.65 Z" fill="#d82e67" stroke="#000" stroke-width="1.4" stroke-linejoin="miter"/>
<path d="M508.65,758.95 L514.75,758.95 L511.70,764.65 Z" fill="#d82e67" stroke="#000" stroke-width="1.4" stroke-linejoin="miter"/>
<path d="M516.85,758.95 L522.95,758.95 L519.90,764.65 Z" fill="#d82e67" stroke="#000" stroke-width="1.4" stroke-linejoin="miter"/>
<line x1="366.80" y1="641.00" x2="366.80" y2="769.15" stroke="#000" stroke-width="2.0"/>
<line x1="365.90" y1="768.25" x2="543.10" y2="768.25" stroke="#000" stroke-width="2.2"/>
<line x1="397.40" y1="768.25" x2="397.40" y2="776.05" stroke="#000" stroke-width="1.8"/>
<text x="397.40" y="789.00" font-size="11.3" font-weight="bold" text-anchor="middle" >0</text>
<text x="397.40" y="802.70" font-size="13.3" font-weight="bold" text-anchor="middle" >Veh</text>
<line x1="435.50" y1="768.25" x2="435.50" y2="776.05" stroke="#000" stroke-width="1.8"/>
<text x="435.50" y="789.00" font-size="11.3" font-weight="bold" text-anchor="middle" >5</text>
<text x="435.50" y="802.70" font-size="13.3" font-weight="bold" text-anchor="middle" >SKF</text>
<line x1="473.80" y1="768.25" x2="473.80" y2="776.05" stroke="#000" stroke-width="1.8"/>
<text x="473.80" y="789.00" font-size="11.3" font-weight="bold" text-anchor="middle" >5</text>
<text x="473.80" y="802.70" font-size="13.3" font-weight="bold" text-anchor="middle" >MLM</text>
<line x1="511.80" y1="768.25" x2="511.80" y2="776.05" stroke="#000" stroke-width="1.8"/>
<text x="511.80" y="789.00" font-size="11.3" font-weight="bold" text-anchor="middle" >10</text>
<text x="511.80" y="802.70" font-size="13.3" font-weight="bold" text-anchor="middle" >MLM</text>
<text x="294.00" y="787.40" font-size="11.6" font-weight="bold" textLength="74.3" lengthAdjust="spacingAndGlyphs">Dose (mg/kg)</text>
<path d="M397.70,662.20 L397.70,655.90 L511.70,655.90 L511.70,662.20" fill="none" stroke="#000" stroke-width="1.3"/>
<path d="M450.50,651.70 L453.60,648.70 L456.70,651.70" fill="none" stroke="#000" stroke-width="2.0" stroke-linejoin="miter"/>
</svg>
</body></html>
